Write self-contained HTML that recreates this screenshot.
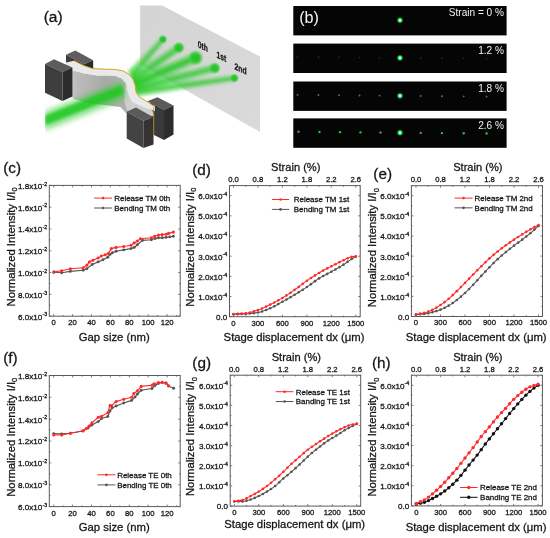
<!DOCTYPE html>
<html><head><meta charset="utf-8"><style>html,body{margin:0;padding:0;background:#fff;}svg{display:block;}text{stroke:#151515;stroke-width:0.28px;}text.w{stroke:none;}</style></head>
<body><svg width="550" height="538" viewBox="0 0 550 538">
<defs>
<linearGradient id="scr" x1="0" y1="0" x2="1" y2="1"><stop offset="0" stop-color="#d4d4d4"/><stop offset="1" stop-color="#dadada"/></linearGradient>
<linearGradient id="beamface" x1="0" y1="0" x2="1" y2="0"><stop offset="0" stop-color="#d2d2d2"/><stop offset="0.12" stop-color="#bcbcbc"/><stop offset="0.45" stop-color="#a9a9a9"/><stop offset="0.75" stop-color="#b4b4b4"/><stop offset="1" stop-color="#cacaca"/></linearGradient>
<radialGradient id="spot"><stop offset="0" stop-color="#25c025"/><stop offset="0.5" stop-color="#2ec42e" stop-opacity="0.95"/><stop offset="0.75" stop-color="#3acb3a" stop-opacity="0.5"/><stop offset="1" stop-color="#3ad43a" stop-opacity="0"/></radialGradient>
<radialGradient id="bspot"><stop offset="0" stop-color="#f4fff6"/><stop offset="0.25" stop-color="#a0ffc0"/><stop offset="0.55" stop-color="#22dd5a"/><stop offset="0.8" stop-color="#10a040" stop-opacity="0.5"/><stop offset="1" stop-color="#10a040" stop-opacity="0"/></radialGradient>
<filter id="blur1" x="-20%" y="-20%" width="140%" height="140%"><feGaussianBlur stdDeviation="0.9"/></filter>
<filter id="blur15" x="-20%" y="-40%" width="140%" height="180%"><feGaussianBlur stdDeviation="1.6"/></filter>
<filter id="blur2" x="-20%" y="-20%" width="140%" height="140%"><feGaussianBlur stdDeviation="1.6"/></filter>
<filter id="blur3" x="-20%" y="-40%" width="140%" height="180%"><feGaussianBlur stdDeviation="2.5"/></filter>
</defs>
<rect width="550" height="538" fill="#fff"/>
<g id="pa">
<text x="43.7" y="21.9" font-size="15.5" fill="#151515" font-family="'Liberation Sans', Arial, sans-serif">(a)</text>
<polygon points="140.2,5.6 162,5.6 260,56.5 260,132 140.2,64.6" fill="url(#scr)"/>
<g filter="url(#blur2)">
<linearGradient id="bm0" gradientUnits="userSpaceOnUse" x1="131" y1="75" x2="162.9" y2="39.3"><stop offset="0" stop-color="#2ccc2c" stop-opacity="0.64"/><stop offset="1" stop-color="#3ccf3c" stop-opacity="0.44"/></linearGradient>
<polygon points="134.58,78.2 127.42,71.8 160.49,37.15 165.31,41.45" fill="url(#bm0)"/>
<linearGradient id="bm1" gradientUnits="userSpaceOnUse" x1="132" y1="79.5" x2="178.9" y2="47.7"><stop offset="0" stop-color="#2ccc2c" stop-opacity="0.68"/><stop offset="1" stop-color="#3ccf3c" stop-opacity="0.47"/></linearGradient>
<polygon points="134.69,83.47 129.31,75.53 176.45,44.08 181.35,51.32" fill="url(#bm1)"/>
<linearGradient id="bm2" gradientUnits="userSpaceOnUse" x1="133" y1="84" x2="195.8" y2="57.8"><stop offset="0" stop-color="#2ccc2c" stop-opacity="0.80"/><stop offset="1" stop-color="#3ccf3c" stop-opacity="0.55"/></linearGradient>
<polygon points="134.85,88.43 131.15,79.57 193.61,52.54 197.99,63.06" fill="url(#bm2)"/>
<linearGradient id="bm3" gradientUnits="userSpaceOnUse" x1="134" y1="88.5" x2="214.8" y2="68.1"><stop offset="0" stop-color="#2ccc2c" stop-opacity="0.68"/><stop offset="1" stop-color="#3ccf3c" stop-opacity="0.47"/></linearGradient>
<polygon points="135.18,93.15 132.82,83.85 213.73,63.86 215.87,72.34" fill="url(#bm3)"/>
<linearGradient id="bm4" gradientUnits="userSpaceOnUse" x1="135" y1="92" x2="234.4" y2="78.1"><stop offset="0" stop-color="#2ccc2c" stop-opacity="0.64"/><stop offset="1" stop-color="#3ccf3c" stop-opacity="0.44"/></linearGradient>
<polygon points="135.66,96.75 134.34,87.25 233.93,74.71 234.87,81.49" fill="url(#bm4)"/>
</g>
<g filter="url(#blur1)">
<line x1="132" y1="75" x2="162.9" y2="39.3" stroke="#22c022" stroke-opacity="0.48" stroke-width="2.55" stroke-linecap="round"/>
<line x1="133" y1="79.5" x2="178.9" y2="47.7" stroke="#22c022" stroke-opacity="0.51" stroke-width="3.45" stroke-linecap="round"/>
<line x1="134" y1="84" x2="195.8" y2="57.8" stroke="#22c022" stroke-opacity="0.60" stroke-width="4.5" stroke-linecap="round"/>
<line x1="135" y1="88.5" x2="214.8" y2="68.1" stroke="#22c022" stroke-opacity="0.51" stroke-width="3.45" stroke-linecap="round"/>
<line x1="136" y1="92" x2="234.4" y2="78.1" stroke="#22c022" stroke-opacity="0.48" stroke-width="2.7" stroke-linecap="round"/>
</g>
<circle cx="162.9" cy="39.3" r="4.59" fill="url(#spot)"/>
<circle cx="178.9" cy="47.7" r="6.21" fill="url(#spot)"/>
<circle cx="195.8" cy="57.8" r="8.1" fill="url(#spot)"/>
<circle cx="214.8" cy="68.1" r="6.21" fill="url(#spot)"/>
<circle cx="234.4" cy="78.1" r="4.86" fill="url(#spot)"/>
<text x="197.8" y="47.2" font-size="9.4" font-weight="bold" fill="#1a1a1a" transform="translate(197.8 47.2) skewY(25) scale(0.72 1) translate(-197.8 -47.2)" font-family="'Liberation Sans', Arial, sans-serif">0th</text>
<text x="216.4" y="57.6" font-size="9.4" font-weight="bold" fill="#1a1a1a" transform="translate(216.4 57.6) skewY(25) scale(0.72 1) translate(-216.4 -57.6)" font-family="'Liberation Sans', Arial, sans-serif">1st</text>
<text x="234.6" y="69.2" font-size="9.4" font-weight="bold" fill="#1a1a1a" transform="translate(234.6 69.2) skewY(25) scale(0.72 1) translate(-234.6 -69.2)" font-family="'Liberation Sans', Arial, sans-serif">2nd</text>
<polygon points="66,54.8 75.3,50.6 93.2,60.2 84.2,64.2" fill="#5e5e5e"/>
<polygon points="66,54.8 84.2,64.2 84.2,72 66,66" fill="#3c3c3c"/>
<polygon points="84.2,64.2 93.2,60.2 93.2,70 84.2,72" fill="#2a2a2a"/>
<polygon points="147.3,101.2 157.4,97.2 173.5,105.6 164,109.8" fill="#5a5a5a"/>
<polygon points="150,102.5 164,109.8 164,140 150,133" fill="#3a3a3a"/>
<polygon points="164,109.8 173.5,105.6 173.5,134.6 164,140" fill="#2c2c2c"/>
<polygon points="66,69.5 72,70 83.2,73.2 97.2,75.6 110,75.5 116,76 121.9,78.4 126,83.5 127.5,90.7 129,96.8 132.6,101.9 138.7,105 145.9,108.1 152,110.1 154,116 126,113 120.3,107 105,105 90,103.5 73,99" fill="url(#beamface)"/>
<polygon points="126,83.5 127.5,90.7 129,96.8 132.6,101.9 138.7,105 145.9,108.1 152,110.1 154,116 128,113 124,100" fill="#cfcfcf"/>
<polygon points="66,62.5 74,60.7 84.2,65.8 92.5,68.6 105,69.2 115.2,69.4 123.4,71 129.5,74.8 133.1,79.4 135.2,85.6 136.2,92.7 139.8,97.3 145.9,100.9 153.1,105.5 155,106.3 155,111 152,110.1 145.9,108.1 138.7,105 132.6,101.9 129,96.8 127.5,90.7 126,83.5 121.9,78.4 115.2,75.8 110,75.5 97.2,75.6 83.2,73.2 72,70 66,69.5" fill="#e9e9e9"/>
<polyline points="74,60.7 84.2,65.8 92.5,68.6 105,69.2 115.2,69.4 123.4,71 129.5,74.8 133.1,79.4 135.2,85.6 136.2,92.7 139.8,97.3 145.9,100.9 153.1,105.5 155,106.3" fill="none" stroke="#d6a21e" stroke-width="1"/>
<g filter="url(#blur3)"><polygon points="45,111 122,81 126,99 45,131" fill="#33cc33" fill-opacity="0.5"/></g>
<g filter="url(#blur15)"><polygon points="45,115.5 122,85 124,94 45,125.5" fill="#22c822" fill-opacity="0.85"/></g>
<rect x="30" y="100" width="15" height="40" fill="#fff"/>
<polygon points="45,64 54,59.3 72.4,67.5 62.5,72" fill="#5c5c5c"/>
<polygon points="45,64 62.5,72 62.5,101 45,92.8" fill="#3e3e3e"/>
<polygon points="62.5,72 72.4,67.5 72.4,96.5 62.5,101" fill="#2c2c2c"/>
<polygon points="126.7,111.7 136,107.5 153.5,117.3 143.4,120.7" fill="#5a5a5a"/>
<polygon points="126.7,111.7 143.4,120.7 143.4,148 126.7,138.5" fill="#434343"/>
<polygon points="143.4,120.7 153.5,117.3 153.5,144.5 143.4,148" fill="#333"/>
<line x1="153.7" y1="107" x2="153.7" y2="136" stroke="#c89a1a" stroke-width="0.8"/>
</g>
<g id="pb">
<rect x="293.3" y="6" width="213.3" height="29.4" fill="#050505"/>
<text x="504" y="16.4" class="w" font-size="10.1" fill="#f2f2f2" text-anchor="end" font-family="'Liberation Sans', Arial, sans-serif">Strain = 0 %</text>
<rect x="293.3" y="43.6" width="213.3" height="29.4" fill="#050505"/>
<text x="504" y="54" class="w" font-size="10.1" fill="#f2f2f2" text-anchor="end" font-family="'Liberation Sans', Arial, sans-serif">1.2 %</text>
<rect x="293.3" y="81.5" width="213.3" height="29.4" fill="#050505"/>
<text x="504" y="91.9" class="w" font-size="10.1" fill="#f2f2f2" text-anchor="end" font-family="'Liberation Sans', Arial, sans-serif">1.8 %</text>
<rect x="293.3" y="118.4" width="213.3" height="29.4" fill="#050505"/>
<text x="504" y="128.8" class="w" font-size="10.1" fill="#f2f2f2" text-anchor="end" font-family="'Liberation Sans', Arial, sans-serif">2.6 %</text>
<text class="w" x="299.2" y="23" font-size="16.2" fill="#f5f5f5" font-family="'Liberation Sans', Arial, sans-serif">(b)</text>
<circle cx="400" cy="20.3" r="3.4" fill="url(#bspot)"/>
<circle cx="400" cy="57.9" r="3.4" fill="url(#bspot)"/>
<circle cx="297.5" cy="56.98" r="0.8" fill="#333"/>
<circle cx="318.5" cy="57.17" r="0.8" fill="#333"/>
<circle cx="339" cy="57.35" r="0.8" fill="#333"/>
<circle cx="359.5" cy="57.54" r="0.8" fill="#333"/>
<circle cx="379.5" cy="57.72" r="0.8" fill="#333"/>
<circle cx="420.7" cy="58.09" r="0.8" fill="#333"/>
<circle cx="441.9" cy="58.28" r="0.8" fill="#333"/>
<circle cx="463.7" cy="58.47" r="0.8" fill="#333"/>
<circle cx="486.6" cy="58.68" r="0.8" fill="#333"/>
<circle cx="400" cy="95.8" r="3.4" fill="url(#bspot)"/>
<circle cx="297.5" cy="94.88" r="0.95" fill="#6a6a6a"/>
<circle cx="318.5" cy="95.07" r="0.95" fill="#6a6a6a"/>
<circle cx="339" cy="95.25" r="0.95" fill="#6a6a6a"/>
<circle cx="359.5" cy="95.44" r="0.95" fill="#6a6a6a"/>
<circle cx="379.5" cy="95.62" r="0.95" fill="#6a6a6a"/>
<circle cx="420.7" cy="95.99" r="0.95" fill="#6a6a6a"/>
<circle cx="441.9" cy="96.18" r="0.95" fill="#6a6a6a"/>
<circle cx="463.7" cy="96.37" r="0.95" fill="#6a6a6a"/>
<circle cx="486.6" cy="96.58" r="0.95" fill="#6a6a6a"/>
<circle cx="400" cy="132.7" r="3.4" fill="url(#bspot)"/>
<circle cx="298.5" cy="131.78" r="1.2" fill="#6a8a6a"/>
<circle cx="319.5" cy="131.97" r="1.2" fill="#25c535"/>
<circle cx="340" cy="132.15" r="1.2" fill="#25c535"/>
<circle cx="360.5" cy="132.34" r="1.2" fill="#25c535"/>
<circle cx="380.5" cy="132.52" r="1.2" fill="#6a8a6a"/>
<circle cx="420.7" cy="132.89" r="1.2" fill="#6a8a6a"/>
<circle cx="441.9" cy="133.08" r="1.2" fill="#25c535"/>
<circle cx="463.7" cy="133.27" r="1.2" fill="#25c535"/>
<circle cx="486.6" cy="133.48" r="1.2" fill="#25c535"/>
</g>
<text x="3.2" y="172.6" font-size="15.3" fill="#151515" font-family="'Liberation Sans', Arial, sans-serif">(c)</text>
<rect x="49.3" y="185.4" width="130.9" height="130.8" fill="none" stroke="#5a5a5a" stroke-width="1"/>
<path d="M53.7,316.2v-2M53.7,185.4v2M72.6,316.2v-2M72.6,185.4v2M91.5,316.2v-2M91.5,185.4v2M110.4,316.2v-2M110.4,185.4v2M129.3,316.2v-2M129.3,185.4v2M148.2,316.2v-2M148.2,185.4v2M167.1,316.2v-2M167.1,185.4v2M63.15,316.2v-1.2M63.15,185.4v1.2M82.05,316.2v-1.2M82.05,185.4v1.2M100.95,316.2v-1.2M100.95,185.4v1.2M119.85,316.2v-1.2M119.85,185.4v1.2M138.75,316.2v-1.2M138.75,185.4v1.2M157.65,316.2v-1.2M157.65,185.4v1.2M176.55,316.2v-1.2M176.55,185.4v1.2" stroke="#5a5a5a" stroke-width="0.8" fill="none"/>
<path d="M49.3,316.2h2M180.2,316.2h-2M49.3,294.4h2M180.2,294.4h-2M49.3,272.6h2M180.2,272.6h-2M49.3,250.8h2M180.2,250.8h-2M49.3,229h2M180.2,229h-2M49.3,207.2h2M180.2,207.2h-2M49.3,185.4h2M180.2,185.4h-2M49.3,305.3h1.2M180.2,305.3h-1.2M49.3,283.5h1.2M180.2,283.5h-1.2M49.3,261.7h1.2M180.2,261.7h-1.2M49.3,239.9h1.2M180.2,239.9h-1.2M49.3,218.1h1.2M180.2,218.1h-1.2M49.3,196.3h1.2M180.2,196.3h-1.2" stroke="#5a5a5a" stroke-width="0.8" fill="none"/>
<text x="53.7" y="325.1" font-size="7.7" fill="#151515" text-anchor="middle" font-family="'Liberation Sans', Arial, sans-serif">0</text>
<text x="72.6" y="325.1" font-size="7.7" fill="#151515" text-anchor="middle" font-family="'Liberation Sans', Arial, sans-serif">20</text>
<text x="91.5" y="325.1" font-size="7.7" fill="#151515" text-anchor="middle" font-family="'Liberation Sans', Arial, sans-serif">40</text>
<text x="110.4" y="325.1" font-size="7.7" fill="#151515" text-anchor="middle" font-family="'Liberation Sans', Arial, sans-serif">60</text>
<text x="129.3" y="325.1" font-size="7.7" fill="#151515" text-anchor="middle" font-family="'Liberation Sans', Arial, sans-serif">80</text>
<text x="148.2" y="325.1" font-size="7.7" fill="#151515" text-anchor="middle" font-family="'Liberation Sans', Arial, sans-serif">100</text>
<text x="167.1" y="325.1" font-size="7.7" fill="#151515" text-anchor="middle" font-family="'Liberation Sans', Arial, sans-serif">120</text>
<text x="47.1" y="319.6" font-size="8.1" fill="#151515" text-anchor="end" font-family="'Liberation Sans', Arial, sans-serif">6.0x10<tspan dy="-3.2" font-size="5.3">-3</tspan></text>
<text x="47.1" y="297.8" font-size="8.1" fill="#151515" text-anchor="end" font-family="'Liberation Sans', Arial, sans-serif">8.0x10<tspan dy="-3.2" font-size="5.3">-3</tspan></text>
<text x="47.1" y="276" font-size="8.1" fill="#151515" text-anchor="end" font-family="'Liberation Sans', Arial, sans-serif">1.0x10<tspan dy="-3.2" font-size="5.3">-2</tspan></text>
<text x="47.1" y="254.2" font-size="8.1" fill="#151515" text-anchor="end" font-family="'Liberation Sans', Arial, sans-serif">1.2x10<tspan dy="-3.2" font-size="5.3">-2</tspan></text>
<text x="47.1" y="232.4" font-size="8.1" fill="#151515" text-anchor="end" font-family="'Liberation Sans', Arial, sans-serif">1.4x10<tspan dy="-3.2" font-size="5.3">-2</tspan></text>
<text x="47.1" y="210.6" font-size="8.1" fill="#151515" text-anchor="end" font-family="'Liberation Sans', Arial, sans-serif">1.6x10<tspan dy="-3.2" font-size="5.3">-2</tspan></text>
<text x="47.1" y="188.8" font-size="8.1" fill="#151515" text-anchor="end" font-family="'Liberation Sans', Arial, sans-serif">1.8x10<tspan dy="-3.2" font-size="5.3">-2</tspan></text>
<text x="114.25" y="340.8" font-size="11.3" fill="#151515" text-anchor="middle" font-family="'Liberation Sans', Arial, sans-serif">Gap size (nm)</text>
<text transform="translate(14.6,306.4) rotate(-90)" font-size="11.3" fill="#151515" font-family="'Liberation Sans', Arial, sans-serif">Normalized Intensity I/I<tspan font-size="7.5" dy="2.5">0</tspan></text>
<polyline points="53.9,272.2 61.7,272.7 70.4,271.4 83.1,270.3 86.8,268.8 92.2,264.5 98.1,261.9 103,259.8 107.8,257.3 110,254.4 112.4,252.8 116.1,251.2 123.7,249.9 131,248.6 134.2,247.4 137.4,244.8 142.5,240.4 151.4,239.7 155.2,238.5 158.4,237.8 162.2,237.8 166,237.4 169.8,236.9 173.4,236.3" fill="none" stroke="#555555" stroke-width="1.15"/>
<circle cx="53.9" cy="272.2" r="1.45" fill="#555555"/>
<circle cx="61.7" cy="272.7" r="1.45" fill="#555555"/>
<circle cx="70.4" cy="271.4" r="1.45" fill="#555555"/>
<circle cx="83.1" cy="270.3" r="1.45" fill="#555555"/>
<circle cx="86.8" cy="268.8" r="1.45" fill="#555555"/>
<circle cx="92.2" cy="264.5" r="1.45" fill="#555555"/>
<circle cx="98.1" cy="261.9" r="1.45" fill="#555555"/>
<circle cx="103" cy="259.8" r="1.45" fill="#555555"/>
<circle cx="107.8" cy="257.3" r="1.45" fill="#555555"/>
<circle cx="110" cy="254.4" r="1.45" fill="#555555"/>
<circle cx="112.4" cy="252.8" r="1.45" fill="#555555"/>
<circle cx="116.1" cy="251.2" r="1.45" fill="#555555"/>
<circle cx="123.7" cy="249.9" r="1.45" fill="#555555"/>
<circle cx="131" cy="248.6" r="1.45" fill="#555555"/>
<circle cx="134.2" cy="247.4" r="1.45" fill="#555555"/>
<circle cx="137.4" cy="244.8" r="1.45" fill="#555555"/>
<circle cx="142.5" cy="240.4" r="1.45" fill="#555555"/>
<circle cx="151.4" cy="239.7" r="1.45" fill="#555555"/>
<circle cx="155.2" cy="238.5" r="1.45" fill="#555555"/>
<circle cx="158.4" cy="237.8" r="1.45" fill="#555555"/>
<circle cx="162.2" cy="237.8" r="1.45" fill="#555555"/>
<circle cx="166" cy="237.4" r="1.45" fill="#555555"/>
<circle cx="169.8" cy="236.9" r="1.45" fill="#555555"/>
<circle cx="173.4" cy="236.3" r="1.45" fill="#555555"/>
<polyline points="53.9,271.9 61.7,270.7 70.4,268.8 83.1,267.7 87,265.1 89.4,261.9 92.9,260.2 98.1,258 101.3,256 105.2,254.7 108.5,253.4 111.3,248.6 116.1,247.4 123.7,246.5 131,245.2 134.2,242.9 137.4,241 140.5,238.8 151.4,237.8 154.5,236.3 158.4,235 162.2,234.6 166,234.3 168.5,233.4 173.4,232.1" fill="none" stroke="#ff2a2a" stroke-width="1.15"/>
<circle cx="53.9" cy="271.9" r="1.55" fill="#ff2a2a"/>
<circle cx="61.7" cy="270.7" r="1.55" fill="#ff2a2a"/>
<circle cx="70.4" cy="268.8" r="1.55" fill="#ff2a2a"/>
<circle cx="83.1" cy="267.7" r="1.55" fill="#ff2a2a"/>
<circle cx="87" cy="265.1" r="1.55" fill="#ff2a2a"/>
<circle cx="89.4" cy="261.9" r="1.55" fill="#ff2a2a"/>
<circle cx="92.9" cy="260.2" r="1.55" fill="#ff2a2a"/>
<circle cx="98.1" cy="258" r="1.55" fill="#ff2a2a"/>
<circle cx="101.3" cy="256" r="1.55" fill="#ff2a2a"/>
<circle cx="105.2" cy="254.7" r="1.55" fill="#ff2a2a"/>
<circle cx="108.5" cy="253.4" r="1.55" fill="#ff2a2a"/>
<circle cx="111.3" cy="248.6" r="1.55" fill="#ff2a2a"/>
<circle cx="116.1" cy="247.4" r="1.55" fill="#ff2a2a"/>
<circle cx="123.7" cy="246.5" r="1.55" fill="#ff2a2a"/>
<circle cx="131" cy="245.2" r="1.55" fill="#ff2a2a"/>
<circle cx="134.2" cy="242.9" r="1.55" fill="#ff2a2a"/>
<circle cx="137.4" cy="241" r="1.55" fill="#ff2a2a"/>
<circle cx="140.5" cy="238.8" r="1.55" fill="#ff2a2a"/>
<circle cx="151.4" cy="237.8" r="1.55" fill="#ff2a2a"/>
<circle cx="154.5" cy="236.3" r="1.55" fill="#ff2a2a"/>
<circle cx="158.4" cy="235" r="1.55" fill="#ff2a2a"/>
<circle cx="162.2" cy="234.6" r="1.55" fill="#ff2a2a"/>
<circle cx="166" cy="234.3" r="1.55" fill="#ff2a2a"/>
<circle cx="168.5" cy="233.4" r="1.55" fill="#ff2a2a"/>
<circle cx="173.4" cy="232.1" r="1.55" fill="#ff2a2a"/>
<line x1="94.1" y1="198.1" x2="112.1" y2="198.1" stroke="#ff2a2a" stroke-width="1"/>
<circle cx="103.1" cy="198.1" r="1.3" fill="#ff2a2a"/>
<text x="114.3" y="200.95" font-size="7.95" fill="#151515" font-family="'Liberation Sans', Arial, sans-serif">Release TM 0th</text>
<line x1="94.1" y1="208" x2="112.1" y2="208" stroke="#555555" stroke-width="1"/>
<circle cx="103.1" cy="208" r="1.3" fill="#555555"/>
<text x="114.3" y="210.85" font-size="7.95" fill="#151515" font-family="'Liberation Sans', Arial, sans-serif">Bending TM 0th</text>
<text x="3.2" y="362.6" font-size="15.3" fill="#151515" font-family="'Liberation Sans', Arial, sans-serif">(f)</text>
<rect x="49.3" y="375.5" width="130.9" height="131.1" fill="none" stroke="#5a5a5a" stroke-width="1"/>
<path d="M53.7,506.6v-2M53.7,375.5v2M72.6,506.6v-2M72.6,375.5v2M91.5,506.6v-2M91.5,375.5v2M110.4,506.6v-2M110.4,375.5v2M129.3,506.6v-2M129.3,375.5v2M148.2,506.6v-2M148.2,375.5v2M167.1,506.6v-2M167.1,375.5v2M63.15,506.6v-1.2M63.15,375.5v1.2M82.05,506.6v-1.2M82.05,375.5v1.2M100.95,506.6v-1.2M100.95,375.5v1.2M119.85,506.6v-1.2M119.85,375.5v1.2M138.75,506.6v-1.2M138.75,375.5v1.2M157.65,506.6v-1.2M157.65,375.5v1.2M176.55,506.6v-1.2M176.55,375.5v1.2" stroke="#5a5a5a" stroke-width="0.8" fill="none"/>
<path d="M49.3,506.6h2M180.2,506.6h-2M49.3,484.75h2M180.2,484.75h-2M49.3,462.9h2M180.2,462.9h-2M49.3,441.05h2M180.2,441.05h-2M49.3,419.2h2M180.2,419.2h-2M49.3,397.35h2M180.2,397.35h-2M49.3,375.5h2M180.2,375.5h-2M49.3,495.68h1.2M180.2,495.68h-1.2M49.3,473.83h1.2M180.2,473.83h-1.2M49.3,451.98h1.2M180.2,451.98h-1.2M49.3,430.12h1.2M180.2,430.12h-1.2M49.3,408.28h1.2M180.2,408.28h-1.2M49.3,386.43h1.2M180.2,386.43h-1.2" stroke="#5a5a5a" stroke-width="0.8" fill="none"/>
<text x="53.7" y="515.5" font-size="7.7" fill="#151515" text-anchor="middle" font-family="'Liberation Sans', Arial, sans-serif">0</text>
<text x="72.6" y="515.5" font-size="7.7" fill="#151515" text-anchor="middle" font-family="'Liberation Sans', Arial, sans-serif">20</text>
<text x="91.5" y="515.5" font-size="7.7" fill="#151515" text-anchor="middle" font-family="'Liberation Sans', Arial, sans-serif">40</text>
<text x="110.4" y="515.5" font-size="7.7" fill="#151515" text-anchor="middle" font-family="'Liberation Sans', Arial, sans-serif">60</text>
<text x="129.3" y="515.5" font-size="7.7" fill="#151515" text-anchor="middle" font-family="'Liberation Sans', Arial, sans-serif">80</text>
<text x="148.2" y="515.5" font-size="7.7" fill="#151515" text-anchor="middle" font-family="'Liberation Sans', Arial, sans-serif">100</text>
<text x="167.1" y="515.5" font-size="7.7" fill="#151515" text-anchor="middle" font-family="'Liberation Sans', Arial, sans-serif">120</text>
<text x="47.1" y="510" font-size="8.1" fill="#151515" text-anchor="end" font-family="'Liberation Sans', Arial, sans-serif">6.0x10<tspan dy="-3.2" font-size="5.3">-3</tspan></text>
<text x="47.1" y="488.15" font-size="8.1" fill="#151515" text-anchor="end" font-family="'Liberation Sans', Arial, sans-serif">8.0x10<tspan dy="-3.2" font-size="5.3">-3</tspan></text>
<text x="47.1" y="466.3" font-size="8.1" fill="#151515" text-anchor="end" font-family="'Liberation Sans', Arial, sans-serif">1.0x10<tspan dy="-3.2" font-size="5.3">-2</tspan></text>
<text x="47.1" y="444.45" font-size="8.1" fill="#151515" text-anchor="end" font-family="'Liberation Sans', Arial, sans-serif">1.2x10<tspan dy="-3.2" font-size="5.3">-2</tspan></text>
<text x="47.1" y="422.6" font-size="8.1" fill="#151515" text-anchor="end" font-family="'Liberation Sans', Arial, sans-serif">1.4x10<tspan dy="-3.2" font-size="5.3">-2</tspan></text>
<text x="47.1" y="400.75" font-size="8.1" fill="#151515" text-anchor="end" font-family="'Liberation Sans', Arial, sans-serif">1.6x10<tspan dy="-3.2" font-size="5.3">-2</tspan></text>
<text x="47.1" y="378.9" font-size="8.1" fill="#151515" text-anchor="end" font-family="'Liberation Sans', Arial, sans-serif">1.8x10<tspan dy="-3.2" font-size="5.3">-2</tspan></text>
<text x="114.25" y="531.2" font-size="11.3" fill="#151515" text-anchor="middle" font-family="'Liberation Sans', Arial, sans-serif">Gap size (nm)</text>
<text transform="translate(14.6,496.8) rotate(-90)" font-size="11.3" fill="#151515" font-family="'Liberation Sans', Arial, sans-serif">Normalized Intensity I/I<tspan font-size="7.5" dy="2.5">0</tspan></text>
<polyline points="53.7,433.6 61.7,433.9 70.3,433.3 83,431 88,428 91.9,425 98.3,421.6 101.5,418.5 107.8,416.5 110,411 112,408 116.1,406 123.7,403 131.6,400.4 135,397 137.4,394 141.2,390.3 152,388.5 155,385.5 158.4,383.5 162.2,382.5 166,383 168.5,386 173.6,388.3" fill="none" stroke="#555555" stroke-width="1.15"/>
<circle cx="53.7" cy="433.6" r="1.45" fill="#555555"/>
<circle cx="61.7" cy="433.9" r="1.45" fill="#555555"/>
<circle cx="70.3" cy="433.3" r="1.45" fill="#555555"/>
<circle cx="83" cy="431" r="1.45" fill="#555555"/>
<circle cx="88" cy="428" r="1.45" fill="#555555"/>
<circle cx="91.9" cy="425" r="1.45" fill="#555555"/>
<circle cx="98.3" cy="421.6" r="1.45" fill="#555555"/>
<circle cx="101.5" cy="418.5" r="1.45" fill="#555555"/>
<circle cx="107.8" cy="416.5" r="1.45" fill="#555555"/>
<circle cx="110" cy="411" r="1.45" fill="#555555"/>
<circle cx="112" cy="408" r="1.45" fill="#555555"/>
<circle cx="116.1" cy="406" r="1.45" fill="#555555"/>
<circle cx="123.7" cy="403" r="1.45" fill="#555555"/>
<circle cx="131.6" cy="400.4" r="1.45" fill="#555555"/>
<circle cx="135" cy="397" r="1.45" fill="#555555"/>
<circle cx="137.4" cy="394" r="1.45" fill="#555555"/>
<circle cx="141.2" cy="390.3" r="1.45" fill="#555555"/>
<circle cx="152" cy="388.5" r="1.45" fill="#555555"/>
<circle cx="155" cy="385.5" r="1.45" fill="#555555"/>
<circle cx="158.4" cy="383.5" r="1.45" fill="#555555"/>
<circle cx="162.2" cy="382.5" r="1.45" fill="#555555"/>
<circle cx="166" cy="383" r="1.45" fill="#555555"/>
<circle cx="168.5" cy="386" r="1.45" fill="#555555"/>
<circle cx="173.6" cy="388.3" r="1.45" fill="#555555"/>
<polyline points="53.7,435 61.7,435 70.3,433.3 83,430.8 86.2,428.6 89,426.1 91.9,422.9 98.3,417.2 101.5,416.3 107.8,412.7 110,405.5 111.6,405.7 116.1,401.6 123.7,399.3 131.6,397.2 133.9,393.4 137.4,390.8 141.2,386.4 152,385.3 153.9,383.8 158.4,382.5 162.2,382.3 166,383.2 168.5,385.7" fill="none" stroke="#ff2a2a" stroke-width="1.15"/>
<circle cx="53.7" cy="435" r="1.55" fill="#ff2a2a"/>
<circle cx="61.7" cy="435" r="1.55" fill="#ff2a2a"/>
<circle cx="70.3" cy="433.3" r="1.55" fill="#ff2a2a"/>
<circle cx="83" cy="430.8" r="1.55" fill="#ff2a2a"/>
<circle cx="86.2" cy="428.6" r="1.55" fill="#ff2a2a"/>
<circle cx="89" cy="426.1" r="1.55" fill="#ff2a2a"/>
<circle cx="91.9" cy="422.9" r="1.55" fill="#ff2a2a"/>
<circle cx="98.3" cy="417.2" r="1.55" fill="#ff2a2a"/>
<circle cx="101.5" cy="416.3" r="1.55" fill="#ff2a2a"/>
<circle cx="107.8" cy="412.7" r="1.55" fill="#ff2a2a"/>
<circle cx="110" cy="405.5" r="1.55" fill="#ff2a2a"/>
<circle cx="111.6" cy="405.7" r="1.55" fill="#ff2a2a"/>
<circle cx="116.1" cy="401.6" r="1.55" fill="#ff2a2a"/>
<circle cx="123.7" cy="399.3" r="1.55" fill="#ff2a2a"/>
<circle cx="131.6" cy="397.2" r="1.55" fill="#ff2a2a"/>
<circle cx="133.9" cy="393.4" r="1.55" fill="#ff2a2a"/>
<circle cx="137.4" cy="390.8" r="1.55" fill="#ff2a2a"/>
<circle cx="141.2" cy="386.4" r="1.55" fill="#ff2a2a"/>
<circle cx="152" cy="385.3" r="1.55" fill="#ff2a2a"/>
<circle cx="153.9" cy="383.8" r="1.55" fill="#ff2a2a"/>
<circle cx="158.4" cy="382.5" r="1.55" fill="#ff2a2a"/>
<circle cx="162.2" cy="382.3" r="1.55" fill="#ff2a2a"/>
<circle cx="166" cy="383.2" r="1.55" fill="#ff2a2a"/>
<circle cx="168.5" cy="385.7" r="1.55" fill="#ff2a2a"/>
<line x1="97.4" y1="474.8" x2="115.4" y2="474.8" stroke="#ff2a2a" stroke-width="1"/>
<circle cx="106.4" cy="474.8" r="1.3" fill="#ff2a2a"/>
<text x="117.2" y="477.65" font-size="7.95" fill="#151515" font-family="'Liberation Sans', Arial, sans-serif">Release TE 0th</text>
<line x1="97.4" y1="484.9" x2="115.4" y2="484.9" stroke="#555555" stroke-width="1"/>
<circle cx="106.4" cy="484.9" r="1.3" fill="#555555"/>
<text x="117.2" y="487.75" font-size="7.95" fill="#151515" font-family="'Liberation Sans', Arial, sans-serif">Bending TE 0th</text>
<text x="192.2" y="174.6" font-size="15.3" fill="#151515" font-family="'Liberation Sans', Arial, sans-serif">(d)</text>
<rect x="229.5" y="185.6" width="130.7" height="131.1" fill="none" stroke="#5a5a5a" stroke-width="1"/>
<path d="M233.5,316.7v-2M233.5,185.6v2M257.95,316.7v-2M257.95,185.6v2M282.4,316.7v-2M282.4,185.6v2M306.85,316.7v-2M306.85,185.6v2M331.3,316.7v-2M331.3,185.6v2M355.75,316.7v-2M355.75,185.6v2M245.72,316.7v-1.2M245.72,185.6v1.2M270.18,316.7v-1.2M270.18,185.6v1.2M294.62,316.7v-1.2M294.62,185.6v1.2M319.07,316.7v-1.2M319.07,185.6v1.2M343.52,316.7v-1.2M343.52,185.6v1.2" stroke="#5a5a5a" stroke-width="0.8" fill="none"/>
<path d="M229.5,316.7h2M360.2,316.7h-2M229.5,296.53h2M360.2,296.53h-2M229.5,276.36h2M360.2,276.36h-2M229.5,256.19h2M360.2,256.19h-2M229.5,236.02h2M360.2,236.02h-2M229.5,215.85h2M360.2,215.85h-2M229.5,195.68h2M360.2,195.68h-2M229.5,306.62h1.2M360.2,306.62h-1.2M229.5,286.45h1.2M360.2,286.45h-1.2M229.5,266.28h1.2M360.2,266.28h-1.2M229.5,246.11h1.2M360.2,246.11h-1.2M229.5,225.94h1.2M360.2,225.94h-1.2M229.5,205.77h1.2M360.2,205.77h-1.2M229.5,185.6h1.2M360.2,185.6h-1.2" stroke="#5a5a5a" stroke-width="0.8" fill="none"/>
<text x="233.5" y="325.6" font-size="7.7" fill="#151515" text-anchor="middle" font-family="'Liberation Sans', Arial, sans-serif">0</text>
<text x="257.95" y="325.6" font-size="7.7" fill="#151515" text-anchor="middle" font-family="'Liberation Sans', Arial, sans-serif">300</text>
<text x="282.4" y="325.6" font-size="7.7" fill="#151515" text-anchor="middle" font-family="'Liberation Sans', Arial, sans-serif">600</text>
<text x="306.85" y="325.6" font-size="7.7" fill="#151515" text-anchor="middle" font-family="'Liberation Sans', Arial, sans-serif">900</text>
<text x="331.3" y="325.6" font-size="7.7" fill="#151515" text-anchor="middle" font-family="'Liberation Sans', Arial, sans-serif">1200</text>
<text x="355.75" y="325.6" font-size="7.7" fill="#151515" text-anchor="middle" font-family="'Liberation Sans', Arial, sans-serif">1500</text>
<text x="233.5" y="182.3" font-size="7.7" fill="#151515" text-anchor="middle" font-family="'Liberation Sans', Arial, sans-serif">0.0</text>
<text x="257.95" y="182.3" font-size="7.7" fill="#151515" text-anchor="middle" font-family="'Liberation Sans', Arial, sans-serif">0.8</text>
<text x="282.4" y="182.3" font-size="7.7" fill="#151515" text-anchor="middle" font-family="'Liberation Sans', Arial, sans-serif">1.2</text>
<text x="306.85" y="182.3" font-size="7.7" fill="#151515" text-anchor="middle" font-family="'Liberation Sans', Arial, sans-serif">1.8</text>
<text x="331.3" y="182.3" font-size="7.7" fill="#151515" text-anchor="middle" font-family="'Liberation Sans', Arial, sans-serif">2.2</text>
<text x="355.75" y="182.3" font-size="7.7" fill="#151515" text-anchor="middle" font-family="'Liberation Sans', Arial, sans-serif">2.6</text>
<text x="295.75" y="171" font-size="11.1" fill="#151515" text-anchor="middle" font-family="'Liberation Sans', Arial, sans-serif">Strain (%)</text>
<text x="227.3" y="320" font-size="8.1" fill="#151515" text-anchor="end" font-family="'Liberation Sans', Arial, sans-serif">0.0</text>
<text x="227.3" y="299.93" font-size="8.1" fill="#151515" text-anchor="end" font-family="'Liberation Sans', Arial, sans-serif">1.0x10<tspan dy="-3.2" font-size="5.3">-4</tspan></text>
<text x="227.3" y="279.76" font-size="8.1" fill="#151515" text-anchor="end" font-family="'Liberation Sans', Arial, sans-serif">2.0x10<tspan dy="-3.2" font-size="5.3">-4</tspan></text>
<text x="227.3" y="259.59" font-size="8.1" fill="#151515" text-anchor="end" font-family="'Liberation Sans', Arial, sans-serif">3.0x10<tspan dy="-3.2" font-size="5.3">-4</tspan></text>
<text x="227.3" y="239.42" font-size="8.1" fill="#151515" text-anchor="end" font-family="'Liberation Sans', Arial, sans-serif">4.0x10<tspan dy="-3.2" font-size="5.3">-4</tspan></text>
<text x="227.3" y="219.25" font-size="8.1" fill="#151515" text-anchor="end" font-family="'Liberation Sans', Arial, sans-serif">5.0x10<tspan dy="-3.2" font-size="5.3">-4</tspan></text>
<text x="227.3" y="199.08" font-size="8.1" fill="#151515" text-anchor="end" font-family="'Liberation Sans', Arial, sans-serif">6.0x10<tspan dy="-3.2" font-size="5.3">-4</tspan></text>
<text x="294.05" y="341.4" font-size="11.3" fill="#151515" text-anchor="middle" font-family="'Liberation Sans', Arial, sans-serif">Stage displacement dx (μm)</text>
<text transform="translate(193.6,306.7) rotate(-90)" font-size="11.3" fill="#151515" font-family="'Liberation Sans', Arial, sans-serif">Normalized Intensity I/I<tspan font-size="7.5" dy="2.5">0</tspan></text>
<polyline points="233.5,314.28 234.31,314.25 235.13,314.23 235.94,314.21 236.76,314.18 237.57,314.16 238.39,314.14 239.21,314.12 240.02,314.09 240.84,314.07 241.65,314.04 242.47,314.02 243.28,313.99 244.09,313.95 244.91,313.92 245.72,313.88 246.54,313.83 247.35,313.78 248.17,313.72 248.99,313.65 249.8,313.57 250.62,313.49 251.43,313.4 252.25,313.31 253.06,313.21 253.88,313.1 254.69,312.98 255.5,312.86 256.32,312.74 257.13,312.6 257.95,312.46 258.76,312.31 259.58,312.13 260.39,311.92 261.21,311.68 262.02,311.43 262.84,311.16 263.65,310.87 264.47,310.57 265.29,310.25 266.1,309.93 266.92,309.59 267.73,309.26 268.55,308.91 269.36,308.57 270.18,308.23 270.99,307.88 271.81,307.51 272.62,307.12 273.44,306.71 274.25,306.3 275.06,305.87 275.88,305.43 276.69,304.98 277.51,304.53 278.32,304.07 279.14,303.61 279.95,303.15 280.77,302.68 281.58,302.23 282.4,301.77 283.22,301.32 284.03,300.87 284.85,300.41 285.66,299.95 286.48,299.49 287.29,299.02 288.11,298.56 288.92,298.09 289.74,297.61 290.55,297.14 291.37,296.66 292.18,296.17 293,295.69 293.81,295.2 294.62,294.72 295.44,294.22 296.25,293.73 297.07,293.24 297.88,292.74 298.7,292.24 299.51,291.74 300.33,291.24 301.14,290.73 301.96,290.22 302.77,289.7 303.59,289.18 304.4,288.65 305.22,288.13 306.03,287.59 306.85,287.05 307.67,286.5 308.48,285.93 309.3,285.35 310.11,284.76 310.93,284.16 311.74,283.55 312.56,282.94 313.37,282.34 314.19,281.73 315,281.14 315.81,280.56 316.63,279.98 317.44,279.43 318.26,278.89 319.07,278.38 319.89,277.88 320.7,277.41 321.52,276.94 322.34,276.49 323.15,276.04 323.97,275.61 324.78,275.18 325.6,274.75 326.41,274.33 327.23,273.91 328.04,273.48 328.86,273.05 329.67,272.62 330.49,272.17 331.3,271.72 332.12,271.27 332.93,270.81 333.75,270.36 334.56,269.91 335.38,269.45 336.19,268.99 337,268.54 337.82,268.07 338.63,267.61 339.45,267.13 340.26,266.66 341.08,266.17 341.89,265.68 342.71,265.17 343.52,264.66 344.34,264.13 345.15,263.58 345.97,263.01 346.79,262.43 347.6,261.84 348.42,261.25 349.23,260.67 350.05,260.1 350.86,259.55 351.68,259.02 352.49,258.51 353.31,258.02 354.12,257.55 354.94,257.07 355.75,256.6" fill="none" stroke="#555555" stroke-width="1.05"/>
<circle cx="233.5" cy="314.28" r="1.3" fill="#555555"/>
<circle cx="237.57" cy="314.16" r="1.3" fill="#555555"/>
<circle cx="241.65" cy="314.04" r="1.3" fill="#555555"/>
<circle cx="245.72" cy="313.88" r="1.3" fill="#555555"/>
<circle cx="249.8" cy="313.57" r="1.3" fill="#555555"/>
<circle cx="253.88" cy="313.1" r="1.3" fill="#555555"/>
<circle cx="257.95" cy="312.46" r="1.3" fill="#555555"/>
<circle cx="262.02" cy="311.43" r="1.3" fill="#555555"/>
<circle cx="266.1" cy="309.93" r="1.3" fill="#555555"/>
<circle cx="270.18" cy="308.23" r="1.3" fill="#555555"/>
<circle cx="274.25" cy="306.3" r="1.3" fill="#555555"/>
<circle cx="278.32" cy="304.07" r="1.3" fill="#555555"/>
<circle cx="282.4" cy="301.77" r="1.3" fill="#555555"/>
<circle cx="286.48" cy="299.49" r="1.3" fill="#555555"/>
<circle cx="290.55" cy="297.14" r="1.3" fill="#555555"/>
<circle cx="294.62" cy="294.72" r="1.3" fill="#555555"/>
<circle cx="298.7" cy="292.24" r="1.3" fill="#555555"/>
<circle cx="302.77" cy="289.7" r="1.3" fill="#555555"/>
<circle cx="306.85" cy="287.05" r="1.3" fill="#555555"/>
<circle cx="310.93" cy="284.16" r="1.3" fill="#555555"/>
<circle cx="315" cy="281.14" r="1.3" fill="#555555"/>
<circle cx="319.07" cy="278.38" r="1.3" fill="#555555"/>
<circle cx="323.15" cy="276.04" r="1.3" fill="#555555"/>
<circle cx="327.23" cy="273.91" r="1.3" fill="#555555"/>
<circle cx="331.3" cy="271.72" r="1.3" fill="#555555"/>
<circle cx="335.38" cy="269.45" r="1.3" fill="#555555"/>
<circle cx="339.45" cy="267.13" r="1.3" fill="#555555"/>
<circle cx="343.52" cy="264.66" r="1.3" fill="#555555"/>
<circle cx="347.6" cy="261.84" r="1.3" fill="#555555"/>
<circle cx="351.68" cy="259.02" r="1.3" fill="#555555"/>
<circle cx="355.75" cy="256.6" r="1.3" fill="#555555"/>
<polyline points="233.5,314.08 234.31,314.03 235.13,313.98 235.94,313.93 236.76,313.89 237.57,313.84 238.39,313.8 239.21,313.76 240.02,313.71 240.84,313.66 241.65,313.61 242.47,313.56 243.28,313.49 244.09,313.43 244.91,313.35 245.72,313.27 246.54,313.17 247.35,313.05 248.17,312.9 248.99,312.73 249.8,312.54 250.62,312.34 251.43,312.12 252.25,311.88 253.06,311.64 253.88,311.39 254.69,311.12 255.5,310.86 256.32,310.59 257.13,310.32 257.95,310.04 258.76,309.76 259.58,309.47 260.39,309.15 261.21,308.82 262.02,308.48 262.84,308.12 263.65,307.75 264.47,307.37 265.29,306.99 266.1,306.6 266.92,306.2 267.73,305.8 268.55,305.4 269.36,305 270.18,304.6 270.99,304.2 271.81,303.79 272.62,303.37 273.44,302.95 274.25,302.53 275.06,302.09 275.88,301.65 276.69,301.21 277.51,300.76 278.32,300.31 279.14,299.84 279.95,299.38 280.77,298.9 281.58,298.43 282.4,297.94 283.22,297.45 284.03,296.95 284.85,296.44 285.66,295.93 286.48,295.4 287.29,294.87 288.11,294.34 288.92,293.79 289.74,293.24 290.55,292.69 291.37,292.13 292.18,291.57 293,291.01 293.81,290.44 294.62,289.87 295.44,289.3 296.25,288.71 297.07,288.11 297.88,287.5 298.7,286.88 299.51,286.26 300.33,285.63 301.14,285.01 301.96,284.39 302.77,283.77 303.59,283.15 304.4,282.55 305.22,281.95 306.03,281.37 306.85,280.8 307.67,280.24 308.48,279.68 309.3,279.13 310.11,278.59 310.93,278.04 311.74,277.51 312.56,276.98 313.37,276.45 314.19,275.93 315,275.42 315.81,274.91 316.63,274.4 317.44,273.91 318.26,273.42 319.07,272.93 319.89,272.46 320.7,271.98 321.52,271.52 322.34,271.06 323.15,270.61 323.97,270.16 324.78,269.72 325.6,269.28 326.41,268.84 327.23,268.41 328.04,267.98 328.86,267.55 329.67,267.12 330.49,266.7 331.3,266.28 332.12,265.85 332.93,265.43 333.75,265.01 334.56,264.59 335.38,264.18 336.19,263.77 337,263.35 337.82,262.95 338.63,262.54 339.45,262.14 340.26,261.75 341.08,261.36 341.89,260.98 342.71,260.6 343.52,260.23 344.34,259.85 345.15,259.45 345.97,259.05 346.79,258.65 347.6,258.26 348.42,257.89 349.23,257.56 350.05,257.25 350.86,257 351.68,256.8 352.49,256.65 353.31,256.52 354.12,256.41 354.94,256.31 355.75,256.19" fill="none" stroke="#ff2a2a" stroke-width="1.05"/>
<circle cx="233.5" cy="314.08" r="1.3" fill="#ff2a2a"/>
<circle cx="237.57" cy="313.84" r="1.3" fill="#ff2a2a"/>
<circle cx="241.65" cy="313.61" r="1.3" fill="#ff2a2a"/>
<circle cx="245.72" cy="313.27" r="1.3" fill="#ff2a2a"/>
<circle cx="249.8" cy="312.54" r="1.3" fill="#ff2a2a"/>
<circle cx="253.88" cy="311.39" r="1.3" fill="#ff2a2a"/>
<circle cx="257.95" cy="310.04" r="1.3" fill="#ff2a2a"/>
<circle cx="262.02" cy="308.48" r="1.3" fill="#ff2a2a"/>
<circle cx="266.1" cy="306.6" r="1.3" fill="#ff2a2a"/>
<circle cx="270.18" cy="304.6" r="1.3" fill="#ff2a2a"/>
<circle cx="274.25" cy="302.53" r="1.3" fill="#ff2a2a"/>
<circle cx="278.32" cy="300.31" r="1.3" fill="#ff2a2a"/>
<circle cx="282.4" cy="297.94" r="1.3" fill="#ff2a2a"/>
<circle cx="286.48" cy="295.4" r="1.3" fill="#ff2a2a"/>
<circle cx="290.55" cy="292.69" r="1.3" fill="#ff2a2a"/>
<circle cx="294.62" cy="289.87" r="1.3" fill="#ff2a2a"/>
<circle cx="298.7" cy="286.88" r="1.3" fill="#ff2a2a"/>
<circle cx="302.77" cy="283.77" r="1.3" fill="#ff2a2a"/>
<circle cx="306.85" cy="280.8" r="1.3" fill="#ff2a2a"/>
<circle cx="310.93" cy="278.04" r="1.3" fill="#ff2a2a"/>
<circle cx="315" cy="275.42" r="1.3" fill="#ff2a2a"/>
<circle cx="319.07" cy="272.93" r="1.3" fill="#ff2a2a"/>
<circle cx="323.15" cy="270.61" r="1.3" fill="#ff2a2a"/>
<circle cx="327.23" cy="268.41" r="1.3" fill="#ff2a2a"/>
<circle cx="331.3" cy="266.28" r="1.3" fill="#ff2a2a"/>
<circle cx="335.38" cy="264.18" r="1.3" fill="#ff2a2a"/>
<circle cx="339.45" cy="262.14" r="1.3" fill="#ff2a2a"/>
<circle cx="343.52" cy="260.23" r="1.3" fill="#ff2a2a"/>
<circle cx="347.6" cy="258.26" r="1.3" fill="#ff2a2a"/>
<circle cx="351.68" cy="256.8" r="1.3" fill="#ff2a2a"/>
<circle cx="355.75" cy="256.19" r="1.3" fill="#ff2a2a"/>
<line x1="271.9" y1="199.5" x2="289.2" y2="199.5" stroke="#ff2a2a" stroke-width="1"/>
<circle cx="280.55" cy="199.5" r="1.3" fill="#ff2a2a"/>
<text x="293.8" y="202.35" font-size="7.95" fill="#151515" font-family="'Liberation Sans', Arial, sans-serif">Release TM 1st</text>
<line x1="271.9" y1="209.4" x2="289.2" y2="209.4" stroke="#555555" stroke-width="1"/>
<circle cx="280.55" cy="209.4" r="1.3" fill="#555555"/>
<text x="293.8" y="212.25" font-size="7.95" fill="#151515" font-family="'Liberation Sans', Arial, sans-serif">Bending TM 1st</text>
<text x="373.3" y="178.8" font-size="15.3" fill="#151515" font-family="'Liberation Sans', Arial, sans-serif">(e)</text>
<rect x="411.4" y="185.7" width="131.1" height="130.8" fill="none" stroke="#5a5a5a" stroke-width="1"/>
<path d="M416,316.5v-2M416,185.7v2M440.5,316.5v-2M440.5,185.7v2M465,316.5v-2M465,185.7v2M489.5,316.5v-2M489.5,185.7v2M514,316.5v-2M514,185.7v2M538.5,316.5v-2M538.5,185.7v2M428.25,316.5v-1.2M428.25,185.7v1.2M452.75,316.5v-1.2M452.75,185.7v1.2M477.25,316.5v-1.2M477.25,185.7v1.2M501.75,316.5v-1.2M501.75,185.7v1.2M526.25,316.5v-1.2M526.25,185.7v1.2" stroke="#5a5a5a" stroke-width="0.8" fill="none"/>
<path d="M411.4,316.5h2M542.5,316.5h-2M411.4,296.38h2M542.5,296.38h-2M411.4,276.25h2M542.5,276.25h-2M411.4,256.13h2M542.5,256.13h-2M411.4,236.01h2M542.5,236.01h-2M411.4,215.88h2M542.5,215.88h-2M411.4,195.76h2M542.5,195.76h-2M411.4,306.44h1.2M542.5,306.44h-1.2M411.4,286.32h1.2M542.5,286.32h-1.2M411.4,266.19h1.2M542.5,266.19h-1.2M411.4,246.07h1.2M542.5,246.07h-1.2M411.4,225.95h1.2M542.5,225.95h-1.2M411.4,205.82h1.2M542.5,205.82h-1.2M411.4,185.7h1.2M542.5,185.7h-1.2" stroke="#5a5a5a" stroke-width="0.8" fill="none"/>
<text x="416" y="325.4" font-size="7.7" fill="#151515" text-anchor="middle" font-family="'Liberation Sans', Arial, sans-serif">0</text>
<text x="440.5" y="325.4" font-size="7.7" fill="#151515" text-anchor="middle" font-family="'Liberation Sans', Arial, sans-serif">300</text>
<text x="465" y="325.4" font-size="7.7" fill="#151515" text-anchor="middle" font-family="'Liberation Sans', Arial, sans-serif">600</text>
<text x="489.5" y="325.4" font-size="7.7" fill="#151515" text-anchor="middle" font-family="'Liberation Sans', Arial, sans-serif">900</text>
<text x="514" y="325.4" font-size="7.7" fill="#151515" text-anchor="middle" font-family="'Liberation Sans', Arial, sans-serif">1200</text>
<text x="538.5" y="325.4" font-size="7.7" fill="#151515" text-anchor="middle" font-family="'Liberation Sans', Arial, sans-serif">1500</text>
<text x="416" y="182.4" font-size="7.7" fill="#151515" text-anchor="middle" font-family="'Liberation Sans', Arial, sans-serif">0.0</text>
<text x="440.5" y="182.4" font-size="7.7" fill="#151515" text-anchor="middle" font-family="'Liberation Sans', Arial, sans-serif">0.8</text>
<text x="465" y="182.4" font-size="7.7" fill="#151515" text-anchor="middle" font-family="'Liberation Sans', Arial, sans-serif">1.2</text>
<text x="489.5" y="182.4" font-size="7.7" fill="#151515" text-anchor="middle" font-family="'Liberation Sans', Arial, sans-serif">1.8</text>
<text x="514" y="182.4" font-size="7.7" fill="#151515" text-anchor="middle" font-family="'Liberation Sans', Arial, sans-serif">2.2</text>
<text x="538.5" y="182.4" font-size="7.7" fill="#151515" text-anchor="middle" font-family="'Liberation Sans', Arial, sans-serif">2.6</text>
<text x="477.85" y="171.1" font-size="11.1" fill="#151515" text-anchor="middle" font-family="'Liberation Sans', Arial, sans-serif">Strain (%)</text>
<text x="409.2" y="319.8" font-size="8.1" fill="#151515" text-anchor="end" font-family="'Liberation Sans', Arial, sans-serif">0.0</text>
<text x="409.2" y="299.78" font-size="8.1" fill="#151515" text-anchor="end" font-family="'Liberation Sans', Arial, sans-serif">1.0x10<tspan dy="-3.2" font-size="5.3">-4</tspan></text>
<text x="409.2" y="279.65" font-size="8.1" fill="#151515" text-anchor="end" font-family="'Liberation Sans', Arial, sans-serif">2.0x10<tspan dy="-3.2" font-size="5.3">-4</tspan></text>
<text x="409.2" y="259.53" font-size="8.1" fill="#151515" text-anchor="end" font-family="'Liberation Sans', Arial, sans-serif">3.0x10<tspan dy="-3.2" font-size="5.3">-4</tspan></text>
<text x="409.2" y="239.41" font-size="8.1" fill="#151515" text-anchor="end" font-family="'Liberation Sans', Arial, sans-serif">4.0x10<tspan dy="-3.2" font-size="5.3">-4</tspan></text>
<text x="409.2" y="219.28" font-size="8.1" fill="#151515" text-anchor="end" font-family="'Liberation Sans', Arial, sans-serif">5.0x10<tspan dy="-3.2" font-size="5.3">-4</tspan></text>
<text x="409.2" y="199.16" font-size="8.1" fill="#151515" text-anchor="end" font-family="'Liberation Sans', Arial, sans-serif">6.0x10<tspan dy="-3.2" font-size="5.3">-4</tspan></text>
<text x="476.15" y="341.2" font-size="11.3" fill="#151515" text-anchor="middle" font-family="'Liberation Sans', Arial, sans-serif">Stage displacement dx (μm)</text>
<text transform="translate(376.4,307.2) rotate(-90)" font-size="11.3" fill="#151515" font-family="'Liberation Sans', Arial, sans-serif">Normalized Intensity I/I<tspan font-size="7.5" dy="2.5">0</tspan></text>
<polyline points="416,314.69 416.82,314.61 417.63,314.54 418.45,314.46 419.27,314.39 420.08,314.32 420.9,314.24 421.72,314.16 422.53,314.08 423.35,313.99 424.17,313.88 424.98,313.77 425.8,313.64 426.62,313.5 427.43,313.35 428.25,313.19 429.07,313.02 429.88,312.85 430.7,312.66 431.52,312.47 432.33,312.27 433.15,312.07 433.97,311.85 434.78,311.62 435.6,311.37 436.42,311.11 437.23,310.84 438.05,310.56 438.87,310.27 439.68,309.97 440.5,309.66 441.32,309.33 442.13,308.98 442.95,308.62 443.77,308.24 444.58,307.84 445.4,307.42 446.22,306.99 447.03,306.55 447.85,306.1 448.67,305.63 449.48,305.15 450.3,304.65 451.12,304.12 451.93,303.58 452.75,303.01 453.57,302.43 454.38,301.84 455.2,301.24 456.02,300.62 456.83,300 457.65,299.36 458.47,298.71 459.28,298.04 460.1,297.35 460.92,296.64 461.73,295.93 462.55,295.2 463.37,294.46 464.18,293.71 465,292.96 465.82,292.19 466.63,291.4 467.45,290.59 468.27,289.78 469.08,288.95 469.9,288.11 470.72,287.26 471.53,286.41 472.35,285.56 473.17,284.71 473.98,283.84 474.8,282.97 475.62,282.09 476.43,281.2 477.25,280.3 478.07,279.41 478.88,278.51 479.7,277.62 480.52,276.73 481.33,275.85 482.15,274.98 482.97,274.1 483.78,273.22 484.6,272.35 485.42,271.47 486.23,270.61 487.05,269.74 487.87,268.89 488.68,268.04 489.5,267.2 490.32,266.37 491.13,265.53 491.95,264.71 492.77,263.89 493.58,263.07 494.4,262.26 495.22,261.47 496.03,260.68 496.85,259.91 497.67,259.15 498.48,258.4 499.3,257.67 500.12,256.95 500.93,256.23 501.75,255.53 502.57,254.83 503.38,254.14 504.2,253.46 505.02,252.78 505.83,252.11 506.65,251.44 507.47,250.77 508.28,250.12 509.1,249.47 509.92,248.82 510.73,248.18 511.55,247.55 512.37,246.92 513.18,246.29 514,245.67 514.82,245.05 515.63,244.44 516.45,243.84 517.27,243.24 518.08,242.65 518.9,242.05 519.72,241.46 520.53,240.86 521.35,240.25 522.17,239.63 522.98,239.01 523.8,238.38 524.62,237.75 525.43,237.12 526.25,236.48 527.07,235.84 527.88,235.19 528.7,234.53 529.52,233.87 530.33,233.19 531.15,232.5 531.97,231.8 532.78,231.08 533.6,230.35 534.42,229.62 535.23,228.88 536.05,228.15 536.87,227.41 537.68,226.67 538.5,225.95" fill="none" stroke="#555555" stroke-width="1.05"/>
<circle cx="416" cy="314.69" r="1.3" fill="#555555"/>
<circle cx="420.08" cy="314.32" r="1.3" fill="#555555"/>
<circle cx="424.17" cy="313.88" r="1.3" fill="#555555"/>
<circle cx="428.25" cy="313.19" r="1.3" fill="#555555"/>
<circle cx="432.33" cy="312.27" r="1.3" fill="#555555"/>
<circle cx="436.42" cy="311.11" r="1.3" fill="#555555"/>
<circle cx="440.5" cy="309.66" r="1.3" fill="#555555"/>
<circle cx="444.58" cy="307.84" r="1.3" fill="#555555"/>
<circle cx="448.67" cy="305.63" r="1.3" fill="#555555"/>
<circle cx="452.75" cy="303.01" r="1.3" fill="#555555"/>
<circle cx="456.83" cy="300" r="1.3" fill="#555555"/>
<circle cx="460.92" cy="296.64" r="1.3" fill="#555555"/>
<circle cx="465" cy="292.96" r="1.3" fill="#555555"/>
<circle cx="469.08" cy="288.95" r="1.3" fill="#555555"/>
<circle cx="473.17" cy="284.71" r="1.3" fill="#555555"/>
<circle cx="477.25" cy="280.3" r="1.3" fill="#555555"/>
<circle cx="481.33" cy="275.85" r="1.3" fill="#555555"/>
<circle cx="485.42" cy="271.47" r="1.3" fill="#555555"/>
<circle cx="489.5" cy="267.2" r="1.3" fill="#555555"/>
<circle cx="493.58" cy="263.07" r="1.3" fill="#555555"/>
<circle cx="497.67" cy="259.15" r="1.3" fill="#555555"/>
<circle cx="501.75" cy="255.53" r="1.3" fill="#555555"/>
<circle cx="505.83" cy="252.11" r="1.3" fill="#555555"/>
<circle cx="509.92" cy="248.82" r="1.3" fill="#555555"/>
<circle cx="514" cy="245.67" r="1.3" fill="#555555"/>
<circle cx="518.08" cy="242.65" r="1.3" fill="#555555"/>
<circle cx="522.17" cy="239.63" r="1.3" fill="#555555"/>
<circle cx="526.25" cy="236.48" r="1.3" fill="#555555"/>
<circle cx="530.33" cy="233.19" r="1.3" fill="#555555"/>
<circle cx="534.42" cy="229.62" r="1.3" fill="#555555"/>
<circle cx="538.5" cy="225.95" r="1.3" fill="#555555"/>
<polyline points="416,314.29 416.82,314.15 417.63,314.02 418.45,313.9 419.27,313.77 420.08,313.65 420.9,313.52 421.72,313.38 422.53,313.23 423.35,313.06 424.17,312.88 424.98,312.67 425.8,312.44 426.62,312.18 427.43,311.9 428.25,311.59 429.07,311.27 429.88,310.94 430.7,310.59 431.52,310.23 432.33,309.86 433.15,309.47 433.97,309.06 434.78,308.61 435.6,308.15 436.42,307.66 437.23,307.16 438.05,306.64 438.87,306.11 439.68,305.57 440.5,305.03 441.32,304.48 442.13,303.9 442.95,303.31 443.77,302.71 444.58,302.09 445.4,301.45 446.22,300.81 447.03,300.15 447.85,299.47 448.67,298.79 449.48,298.09 450.3,297.37 451.12,296.63 451.93,295.87 452.75,295.1 453.57,294.32 454.38,293.53 455.2,292.74 456.02,291.94 456.83,291.14 457.65,290.35 458.47,289.54 459.28,288.72 460.1,287.9 460.92,287.07 461.73,286.24 462.55,285.4 463.37,284.57 464.18,283.73 465,282.89 465.82,282.06 466.63,281.21 467.45,280.37 468.27,279.52 469.08,278.67 469.9,277.82 470.72,276.97 471.53,276.12 472.35,275.28 473.17,274.44 473.98,273.61 474.8,272.77 475.62,271.94 476.43,271.11 477.25,270.28 478.07,269.45 478.88,268.63 479.7,267.81 480.52,267 481.33,266.19 482.15,265.39 482.97,264.58 483.78,263.78 484.6,262.97 485.42,262.18 486.23,261.39 487.05,260.61 487.87,259.84 488.68,259.08 489.5,258.34 490.32,257.62 491.13,256.91 491.95,256.2 492.77,255.51 493.58,254.83 494.4,254.15 495.22,253.48 496.03,252.82 496.85,252.16 497.67,251.5 498.48,250.85 499.3,250.21 500.12,249.57 500.93,248.94 501.75,248.31 502.57,247.69 503.38,247.07 504.2,246.46 505.02,245.86 505.83,245.26 506.65,244.68 507.47,244.09 508.28,243.52 509.1,242.95 509.92,242.39 510.73,241.83 511.55,241.27 512.37,240.72 513.18,240.17 514,239.63 514.82,239.09 515.63,238.56 516.45,238.03 517.27,237.5 518.08,236.98 518.9,236.46 519.72,235.94 520.53,235.42 521.35,234.91 522.17,234.4 522.98,233.88 523.8,233.37 524.62,232.85 525.43,232.34 526.25,231.83 527.07,231.32 527.88,230.82 528.7,230.33 529.52,229.84 530.33,229.37 531.15,228.9 531.97,228.45 532.78,228 533.6,227.56 534.42,227.12 535.23,226.68 536.05,226.25 536.87,225.82 537.68,225.38 538.5,224.94" fill="none" stroke="#ff2a2a" stroke-width="1.05"/>
<circle cx="416" cy="314.29" r="1.3" fill="#ff2a2a"/>
<circle cx="420.08" cy="313.65" r="1.3" fill="#ff2a2a"/>
<circle cx="424.17" cy="312.88" r="1.3" fill="#ff2a2a"/>
<circle cx="428.25" cy="311.59" r="1.3" fill="#ff2a2a"/>
<circle cx="432.33" cy="309.86" r="1.3" fill="#ff2a2a"/>
<circle cx="436.42" cy="307.66" r="1.3" fill="#ff2a2a"/>
<circle cx="440.5" cy="305.03" r="1.3" fill="#ff2a2a"/>
<circle cx="444.58" cy="302.09" r="1.3" fill="#ff2a2a"/>
<circle cx="448.67" cy="298.79" r="1.3" fill="#ff2a2a"/>
<circle cx="452.75" cy="295.1" r="1.3" fill="#ff2a2a"/>
<circle cx="456.83" cy="291.14" r="1.3" fill="#ff2a2a"/>
<circle cx="460.92" cy="287.07" r="1.3" fill="#ff2a2a"/>
<circle cx="465" cy="282.89" r="1.3" fill="#ff2a2a"/>
<circle cx="469.08" cy="278.67" r="1.3" fill="#ff2a2a"/>
<circle cx="473.17" cy="274.44" r="1.3" fill="#ff2a2a"/>
<circle cx="477.25" cy="270.28" r="1.3" fill="#ff2a2a"/>
<circle cx="481.33" cy="266.19" r="1.3" fill="#ff2a2a"/>
<circle cx="485.42" cy="262.18" r="1.3" fill="#ff2a2a"/>
<circle cx="489.5" cy="258.34" r="1.3" fill="#ff2a2a"/>
<circle cx="493.58" cy="254.83" r="1.3" fill="#ff2a2a"/>
<circle cx="497.67" cy="251.5" r="1.3" fill="#ff2a2a"/>
<circle cx="501.75" cy="248.31" r="1.3" fill="#ff2a2a"/>
<circle cx="505.83" cy="245.26" r="1.3" fill="#ff2a2a"/>
<circle cx="509.92" cy="242.39" r="1.3" fill="#ff2a2a"/>
<circle cx="514" cy="239.63" r="1.3" fill="#ff2a2a"/>
<circle cx="518.08" cy="236.98" r="1.3" fill="#ff2a2a"/>
<circle cx="522.17" cy="234.4" r="1.3" fill="#ff2a2a"/>
<circle cx="526.25" cy="231.83" r="1.3" fill="#ff2a2a"/>
<circle cx="530.33" cy="229.37" r="1.3" fill="#ff2a2a"/>
<circle cx="534.42" cy="227.12" r="1.3" fill="#ff2a2a"/>
<circle cx="538.5" cy="224.94" r="1.3" fill="#ff2a2a"/>
<line x1="454.5" y1="198.1" x2="472.6" y2="198.1" stroke="#ff2a2a" stroke-width="1"/>
<circle cx="463.55" cy="198.1" r="1.3" fill="#ff2a2a"/>
<text x="474.6" y="200.95" font-size="7.95" fill="#151515" font-family="'Liberation Sans', Arial, sans-serif">Release TM 2nd</text>
<line x1="454.5" y1="207.85" x2="472.6" y2="207.85" stroke="#555555" stroke-width="1"/>
<circle cx="463.55" cy="207.85" r="1.3" fill="#555555"/>
<text x="474.6" y="210.7" font-size="7.95" fill="#151515" font-family="'Liberation Sans', Arial, sans-serif">Bending TM 2nd</text>
<text x="192.3" y="368.2" font-size="15.3" fill="#151515" font-family="'Liberation Sans', Arial, sans-serif">(g)</text>
<rect x="230.2" y="375.2" width="130.5" height="130.9" fill="none" stroke="#5a5a5a" stroke-width="1"/>
<path d="M234.3,506.1v-2M234.3,375.2v2M258.8,506.1v-2M258.8,375.2v2M283.3,506.1v-2M283.3,375.2v2M307.8,506.1v-2M307.8,375.2v2M332.3,506.1v-2M332.3,375.2v2M356.8,506.1v-2M356.8,375.2v2M246.55,506.1v-1.2M246.55,375.2v1.2M271.05,506.1v-1.2M271.05,375.2v1.2M295.55,506.1v-1.2M295.55,375.2v1.2M320.05,506.1v-1.2M320.05,375.2v1.2M344.55,506.1v-1.2M344.55,375.2v1.2" stroke="#5a5a5a" stroke-width="0.8" fill="none"/>
<path d="M230.2,506.1h2M360.7,506.1h-2M230.2,485.96h2M360.7,485.96h-2M230.2,465.82h2M360.7,465.82h-2M230.2,445.68h2M360.7,445.68h-2M230.2,425.55h2M360.7,425.55h-2M230.2,405.41h2M360.7,405.41h-2M230.2,385.27h2M360.7,385.27h-2M230.2,496.03h1.2M360.7,496.03h-1.2M230.2,475.89h1.2M360.7,475.89h-1.2M230.2,455.75h1.2M360.7,455.75h-1.2M230.2,435.62h1.2M360.7,435.62h-1.2M230.2,415.48h1.2M360.7,415.48h-1.2M230.2,395.34h1.2M360.7,395.34h-1.2M230.2,375.2h1.2M360.7,375.2h-1.2" stroke="#5a5a5a" stroke-width="0.8" fill="none"/>
<text x="234.3" y="515" font-size="7.7" fill="#151515" text-anchor="middle" font-family="'Liberation Sans', Arial, sans-serif">0</text>
<text x="258.8" y="515" font-size="7.7" fill="#151515" text-anchor="middle" font-family="'Liberation Sans', Arial, sans-serif">300</text>
<text x="283.3" y="515" font-size="7.7" fill="#151515" text-anchor="middle" font-family="'Liberation Sans', Arial, sans-serif">600</text>
<text x="307.8" y="515" font-size="7.7" fill="#151515" text-anchor="middle" font-family="'Liberation Sans', Arial, sans-serif">900</text>
<text x="332.3" y="515" font-size="7.7" fill="#151515" text-anchor="middle" font-family="'Liberation Sans', Arial, sans-serif">1200</text>
<text x="356.8" y="515" font-size="7.7" fill="#151515" text-anchor="middle" font-family="'Liberation Sans', Arial, sans-serif">1500</text>
<text x="234.3" y="371.9" font-size="7.7" fill="#151515" text-anchor="middle" font-family="'Liberation Sans', Arial, sans-serif">0.0</text>
<text x="258.8" y="371.9" font-size="7.7" fill="#151515" text-anchor="middle" font-family="'Liberation Sans', Arial, sans-serif">0.8</text>
<text x="283.3" y="371.9" font-size="7.7" fill="#151515" text-anchor="middle" font-family="'Liberation Sans', Arial, sans-serif">1.2</text>
<text x="307.8" y="371.9" font-size="7.7" fill="#151515" text-anchor="middle" font-family="'Liberation Sans', Arial, sans-serif">1.8</text>
<text x="332.3" y="371.9" font-size="7.7" fill="#151515" text-anchor="middle" font-family="'Liberation Sans', Arial, sans-serif">2.2</text>
<text x="356.8" y="371.9" font-size="7.7" fill="#151515" text-anchor="middle" font-family="'Liberation Sans', Arial, sans-serif">2.6</text>
<text x="296.35" y="360.6" font-size="11.1" fill="#151515" text-anchor="middle" font-family="'Liberation Sans', Arial, sans-serif">Strain (%)</text>
<text x="228" y="509.4" font-size="8.1" fill="#151515" text-anchor="end" font-family="'Liberation Sans', Arial, sans-serif">0.0</text>
<text x="228" y="489.36" font-size="8.1" fill="#151515" text-anchor="end" font-family="'Liberation Sans', Arial, sans-serif">1.0x10<tspan dy="-3.2" font-size="5.3">-4</tspan></text>
<text x="228" y="469.22" font-size="8.1" fill="#151515" text-anchor="end" font-family="'Liberation Sans', Arial, sans-serif">2.0x10<tspan dy="-3.2" font-size="5.3">-4</tspan></text>
<text x="228" y="449.08" font-size="8.1" fill="#151515" text-anchor="end" font-family="'Liberation Sans', Arial, sans-serif">3.0x10<tspan dy="-3.2" font-size="5.3">-4</tspan></text>
<text x="228" y="428.95" font-size="8.1" fill="#151515" text-anchor="end" font-family="'Liberation Sans', Arial, sans-serif">4.0x10<tspan dy="-3.2" font-size="5.3">-4</tspan></text>
<text x="228" y="408.81" font-size="8.1" fill="#151515" text-anchor="end" font-family="'Liberation Sans', Arial, sans-serif">5.0x10<tspan dy="-3.2" font-size="5.3">-4</tspan></text>
<text x="228" y="388.67" font-size="8.1" fill="#151515" text-anchor="end" font-family="'Liberation Sans', Arial, sans-serif">6.0x10<tspan dy="-3.2" font-size="5.3">-4</tspan></text>
<text x="294.65" y="528.2" font-size="11.3" fill="#151515" text-anchor="middle" font-family="'Liberation Sans', Arial, sans-serif">Stage displacement dx (μm)</text>
<text transform="translate(194.3,496.1) rotate(-90)" font-size="11.3" fill="#151515" font-family="'Liberation Sans', Arial, sans-serif">Normalized Intensity I/I<tspan font-size="7.5" dy="2.5">0</tspan></text>
<polyline points="234.3,501.47 235.12,501.47 235.93,501.47 236.75,501.47 237.57,501.47 238.38,501.47 239.2,501.47 240.02,501.47 240.83,501.47 241.65,501.47 242.47,501.47 243.28,501.43 244.1,501.34 244.92,501.19 245.73,501 246.55,500.78 247.37,500.53 248.18,500.26 249,499.99 249.82,499.72 250.63,499.45 251.45,499.19 252.27,498.9 253.08,498.59 253.9,498.25 254.72,497.91 255.53,497.55 256.35,497.18 257.17,496.8 257.98,496.42 258.8,496.03 259.62,495.64 260.43,495.23 261.25,494.82 262.07,494.39 262.88,493.95 263.7,493.5 264.52,493.04 265.33,492.57 266.15,492.09 266.97,491.6 267.78,491.1 268.6,490.59 269.42,490.06 270.23,489.52 271.05,488.97 271.87,488.4 272.68,487.81 273.5,487.21 274.32,486.6 275.13,485.96 275.95,485.29 276.77,484.58 277.58,483.83 278.4,483.05 279.22,482.27 280.03,481.48 280.85,480.7 281.67,479.93 282.48,479.2 283.3,478.5 284.12,477.82 284.93,477.16 285.75,476.51 286.57,475.86 287.38,475.21 288.2,474.56 289.02,473.88 289.83,473.19 290.65,472.49 291.47,471.79 292.28,471.08 293.1,470.36 293.92,469.63 294.73,468.9 295.55,468.17 296.37,467.43 297.18,466.69 298,465.94 298.82,465.19 299.63,464.43 300.45,463.66 301.27,462.87 302.08,462.08 302.9,461.28 303.72,460.49 304.53,459.69 305.35,458.91 306.17,458.13 306.98,457.37 307.8,456.63 308.62,455.91 309.43,455.19 310.25,454.47 311.07,453.77 311.88,453.07 312.7,452.38 313.52,451.7 314.33,451.02 315.15,450.35 315.97,449.69 316.78,449.03 317.6,448.38 318.42,447.73 319.23,447.08 320.05,446.44 320.87,445.8 321.68,445.17 322.5,444.54 323.32,443.93 324.13,443.33 324.95,442.74 325.77,442.16 326.58,441.6 327.4,441.06 328.22,440.54 329.03,440.02 329.85,439.53 330.67,439.03 331.48,438.55 332.3,438.07 333.12,437.59 333.93,437.1 334.75,436.62 335.57,436.12 336.38,435.62 337.2,435.1 338.02,434.57 338.83,434.03 339.65,433.48 340.47,432.94 341.28,432.4 342.1,431.86 342.92,431.33 343.73,430.81 344.55,430.3 345.37,429.81 346.18,429.34 347,428.89 347.82,428.45 348.63,428.02 349.45,427.6 350.27,427.18 351.08,426.77 351.9,426.36 352.72,425.95 353.53,425.54 354.35,425.14 355.17,424.74 355.98,424.34 356.8,423.94" fill="none" stroke="#555555" stroke-width="1.05"/>
<circle cx="234.3" cy="501.47" r="1.3" fill="#555555"/>
<circle cx="238.38" cy="501.47" r="1.3" fill="#555555"/>
<circle cx="242.47" cy="501.47" r="1.3" fill="#555555"/>
<circle cx="246.55" cy="500.78" r="1.3" fill="#555555"/>
<circle cx="250.63" cy="499.45" r="1.3" fill="#555555"/>
<circle cx="254.72" cy="497.91" r="1.3" fill="#555555"/>
<circle cx="258.8" cy="496.03" r="1.3" fill="#555555"/>
<circle cx="262.88" cy="493.95" r="1.3" fill="#555555"/>
<circle cx="266.97" cy="491.6" r="1.3" fill="#555555"/>
<circle cx="271.05" cy="488.97" r="1.3" fill="#555555"/>
<circle cx="275.13" cy="485.96" r="1.3" fill="#555555"/>
<circle cx="279.22" cy="482.27" r="1.3" fill="#555555"/>
<circle cx="283.3" cy="478.5" r="1.3" fill="#555555"/>
<circle cx="287.38" cy="475.21" r="1.3" fill="#555555"/>
<circle cx="291.47" cy="471.79" r="1.3" fill="#555555"/>
<circle cx="295.55" cy="468.17" r="1.3" fill="#555555"/>
<circle cx="299.63" cy="464.43" r="1.3" fill="#555555"/>
<circle cx="303.72" cy="460.49" r="1.3" fill="#555555"/>
<circle cx="307.8" cy="456.63" r="1.3" fill="#555555"/>
<circle cx="311.88" cy="453.07" r="1.3" fill="#555555"/>
<circle cx="315.97" cy="449.69" r="1.3" fill="#555555"/>
<circle cx="320.05" cy="446.44" r="1.3" fill="#555555"/>
<circle cx="324.13" cy="443.33" r="1.3" fill="#555555"/>
<circle cx="328.22" cy="440.54" r="1.3" fill="#555555"/>
<circle cx="332.3" cy="438.07" r="1.3" fill="#555555"/>
<circle cx="336.38" cy="435.62" r="1.3" fill="#555555"/>
<circle cx="340.47" cy="432.94" r="1.3" fill="#555555"/>
<circle cx="344.55" cy="430.3" r="1.3" fill="#555555"/>
<circle cx="348.63" cy="428.02" r="1.3" fill="#555555"/>
<circle cx="352.72" cy="425.95" r="1.3" fill="#555555"/>
<circle cx="356.8" cy="423.94" r="1.3" fill="#555555"/>
<polyline points="234.3,501.27 235.12,501.15 235.93,501.05 236.75,500.95 237.57,500.85 238.38,500.74 239.2,500.64 240.02,500.52 240.83,500.38 241.65,500.23 242.47,500.06 243.28,499.83 244.1,499.54 244.92,499.18 245.73,498.78 246.55,498.34 247.37,497.88 248.18,497.4 249,496.93 249.82,496.47 250.63,496.03 251.45,495.61 252.27,495.19 253.08,494.77 253.9,494.34 254.72,493.91 255.53,493.47 256.35,493.02 257.17,492.56 257.98,492.09 258.8,491.6 259.62,491.1 260.43,490.57 261.25,490.04 262.07,489.49 262.88,488.92 263.7,488.35 264.52,487.76 265.33,487.17 266.15,486.57 266.97,485.96 267.78,485.34 268.6,484.71 269.42,484.07 270.23,483.42 271.05,482.75 271.87,482.08 272.68,481.4 273.5,480.71 274.32,480.02 275.13,479.32 275.95,478.61 276.77,477.89 277.58,477.16 278.4,476.42 279.22,475.68 280.03,474.93 280.85,474.17 281.67,473.41 282.48,472.64 283.3,471.86 284.12,471.08 284.93,470.28 285.75,469.46 286.57,468.64 287.38,467.81 288.2,466.98 289.02,466.17 289.83,465.36 290.65,464.57 291.47,463.81 292.28,463.07 293.1,462.34 293.92,461.63 294.73,460.92 295.55,460.23 296.37,459.54 297.18,458.85 298,458.16 298.82,457.46 299.63,456.76 300.45,456.05 301.27,455.33 302.08,454.6 302.9,453.87 303.72,453.14 304.53,452.42 305.35,451.71 306.17,451.02 306.98,450.35 307.8,449.71 308.62,449.1 309.43,448.5 310.25,447.92 311.07,447.36 311.88,446.8 312.7,446.25 313.52,445.71 314.33,445.17 315.15,444.62 315.97,444.07 316.78,443.52 317.6,442.97 318.42,442.41 319.23,441.86 320.05,441.32 320.87,440.77 321.68,440.23 322.5,439.69 323.32,439.16 324.13,438.64 324.95,438.11 325.77,437.59 326.58,437.08 327.4,436.56 328.22,436.05 329.03,435.55 329.85,435.05 330.67,434.56 331.48,434.08 332.3,433.6 333.12,433.13 333.93,432.67 334.75,432.2 335.57,431.75 336.38,431.3 337.2,430.85 338.02,430.42 338.83,429.99 339.65,429.58 340.47,429.17 341.28,428.77 342.1,428.37 342.92,427.97 343.73,427.57 344.55,427.18 345.37,426.81 346.18,426.46 347,426.13 347.82,425.82 348.63,425.55 349.45,425.3 350.27,425.07 351.08,424.86 351.9,424.66 352.72,424.47 353.53,424.28 354.35,424.1 355.17,423.92 355.98,423.73 356.8,423.53" fill="none" stroke="#ff2a2a" stroke-width="1.05"/>
<circle cx="234.3" cy="501.27" r="1.3" fill="#ff2a2a"/>
<circle cx="238.38" cy="500.74" r="1.3" fill="#ff2a2a"/>
<circle cx="242.47" cy="500.06" r="1.3" fill="#ff2a2a"/>
<circle cx="246.55" cy="498.34" r="1.3" fill="#ff2a2a"/>
<circle cx="250.63" cy="496.03" r="1.3" fill="#ff2a2a"/>
<circle cx="254.72" cy="493.91" r="1.3" fill="#ff2a2a"/>
<circle cx="258.8" cy="491.6" r="1.3" fill="#ff2a2a"/>
<circle cx="262.88" cy="488.92" r="1.3" fill="#ff2a2a"/>
<circle cx="266.97" cy="485.96" r="1.3" fill="#ff2a2a"/>
<circle cx="271.05" cy="482.75" r="1.3" fill="#ff2a2a"/>
<circle cx="275.13" cy="479.32" r="1.3" fill="#ff2a2a"/>
<circle cx="279.22" cy="475.68" r="1.3" fill="#ff2a2a"/>
<circle cx="283.3" cy="471.86" r="1.3" fill="#ff2a2a"/>
<circle cx="287.38" cy="467.81" r="1.3" fill="#ff2a2a"/>
<circle cx="291.47" cy="463.81" r="1.3" fill="#ff2a2a"/>
<circle cx="295.55" cy="460.23" r="1.3" fill="#ff2a2a"/>
<circle cx="299.63" cy="456.76" r="1.3" fill="#ff2a2a"/>
<circle cx="303.72" cy="453.14" r="1.3" fill="#ff2a2a"/>
<circle cx="307.8" cy="449.71" r="1.3" fill="#ff2a2a"/>
<circle cx="311.88" cy="446.8" r="1.3" fill="#ff2a2a"/>
<circle cx="315.97" cy="444.07" r="1.3" fill="#ff2a2a"/>
<circle cx="320.05" cy="441.32" r="1.3" fill="#ff2a2a"/>
<circle cx="324.13" cy="438.64" r="1.3" fill="#ff2a2a"/>
<circle cx="328.22" cy="436.05" r="1.3" fill="#ff2a2a"/>
<circle cx="332.3" cy="433.6" r="1.3" fill="#ff2a2a"/>
<circle cx="336.38" cy="431.3" r="1.3" fill="#ff2a2a"/>
<circle cx="340.47" cy="429.17" r="1.3" fill="#ff2a2a"/>
<circle cx="344.55" cy="427.18" r="1.3" fill="#ff2a2a"/>
<circle cx="348.63" cy="425.55" r="1.3" fill="#ff2a2a"/>
<circle cx="352.72" cy="424.47" r="1.3" fill="#ff2a2a"/>
<circle cx="356.8" cy="423.53" r="1.3" fill="#ff2a2a"/>
<line x1="275.7" y1="391.7" x2="293.5" y2="391.7" stroke="#ff2a2a" stroke-width="1"/>
<circle cx="284.6" cy="391.7" r="1.3" fill="#ff2a2a"/>
<text x="295.8" y="394.55" font-size="7.95" fill="#151515" font-family="'Liberation Sans', Arial, sans-serif">Release TE 1st</text>
<line x1="275.7" y1="401.55" x2="293.5" y2="401.55" stroke="#555555" stroke-width="1"/>
<circle cx="284.6" cy="401.55" r="1.3" fill="#555555"/>
<text x="295.8" y="404.4" font-size="7.95" fill="#151515" font-family="'Liberation Sans', Arial, sans-serif">Banding TE 1st</text>
<text x="372" y="367.8" font-size="15.3" fill="#151515" font-family="'Liberation Sans', Arial, sans-serif">(h)</text>
<rect x="411.4" y="375.2" width="131" height="130.7" fill="none" stroke="#5a5a5a" stroke-width="1"/>
<path d="M416.3,505.9v-2M416.3,375.2v2M440.65,505.9v-2M440.65,375.2v2M465,505.9v-2M465,375.2v2M489.35,505.9v-2M489.35,375.2v2M513.7,505.9v-2M513.7,375.2v2M538.05,505.9v-2M538.05,375.2v2M428.48,505.9v-1.2M428.48,375.2v1.2M452.82,505.9v-1.2M452.82,375.2v1.2M477.18,505.9v-1.2M477.18,375.2v1.2M501.52,505.9v-1.2M501.52,375.2v1.2M525.88,505.9v-1.2M525.88,375.2v1.2" stroke="#5a5a5a" stroke-width="0.8" fill="none"/>
<path d="M411.4,505.9h2M542.4,505.9h-2M411.4,485.79h2M542.4,485.79h-2M411.4,465.68h2M542.4,465.68h-2M411.4,445.58h2M542.4,445.58h-2M411.4,425.47h2M542.4,425.47h-2M411.4,405.36h2M542.4,405.36h-2M411.4,385.25h2M542.4,385.25h-2M411.4,495.85h1.2M542.4,495.85h-1.2M411.4,475.74h1.2M542.4,475.74h-1.2M411.4,455.63h1.2M542.4,455.63h-1.2M411.4,435.52h1.2M542.4,435.52h-1.2M411.4,415.42h1.2M542.4,415.42h-1.2M411.4,395.31h1.2M542.4,395.31h-1.2M411.4,375.2h1.2M542.4,375.2h-1.2" stroke="#5a5a5a" stroke-width="0.8" fill="none"/>
<text x="416.3" y="514.8" font-size="7.7" fill="#151515" text-anchor="middle" font-family="'Liberation Sans', Arial, sans-serif">0</text>
<text x="440.65" y="514.8" font-size="7.7" fill="#151515" text-anchor="middle" font-family="'Liberation Sans', Arial, sans-serif">300</text>
<text x="465" y="514.8" font-size="7.7" fill="#151515" text-anchor="middle" font-family="'Liberation Sans', Arial, sans-serif">600</text>
<text x="489.35" y="514.8" font-size="7.7" fill="#151515" text-anchor="middle" font-family="'Liberation Sans', Arial, sans-serif">900</text>
<text x="513.7" y="514.8" font-size="7.7" fill="#151515" text-anchor="middle" font-family="'Liberation Sans', Arial, sans-serif">1200</text>
<text x="538.05" y="514.8" font-size="7.7" fill="#151515" text-anchor="middle" font-family="'Liberation Sans', Arial, sans-serif">1500</text>
<text x="416.3" y="371.9" font-size="7.7" fill="#151515" text-anchor="middle" font-family="'Liberation Sans', Arial, sans-serif">0.0</text>
<text x="440.65" y="371.9" font-size="7.7" fill="#151515" text-anchor="middle" font-family="'Liberation Sans', Arial, sans-serif">0.8</text>
<text x="465" y="371.9" font-size="7.7" fill="#151515" text-anchor="middle" font-family="'Liberation Sans', Arial, sans-serif">1.2</text>
<text x="489.35" y="371.9" font-size="7.7" fill="#151515" text-anchor="middle" font-family="'Liberation Sans', Arial, sans-serif">1.8</text>
<text x="513.7" y="371.9" font-size="7.7" fill="#151515" text-anchor="middle" font-family="'Liberation Sans', Arial, sans-serif">2.2</text>
<text x="538.05" y="371.9" font-size="7.7" fill="#151515" text-anchor="middle" font-family="'Liberation Sans', Arial, sans-serif">2.6</text>
<text x="477.8" y="360.6" font-size="11.1" fill="#151515" text-anchor="middle" font-family="'Liberation Sans', Arial, sans-serif">Strain (%)</text>
<text x="409.2" y="509.2" font-size="8.1" fill="#151515" text-anchor="end" font-family="'Liberation Sans', Arial, sans-serif">0.0</text>
<text x="409.2" y="489.19" font-size="8.1" fill="#151515" text-anchor="end" font-family="'Liberation Sans', Arial, sans-serif">1.0x10<tspan dy="-3.2" font-size="5.3">-4</tspan></text>
<text x="409.2" y="469.08" font-size="8.1" fill="#151515" text-anchor="end" font-family="'Liberation Sans', Arial, sans-serif">2.0x10<tspan dy="-3.2" font-size="5.3">-4</tspan></text>
<text x="409.2" y="448.98" font-size="8.1" fill="#151515" text-anchor="end" font-family="'Liberation Sans', Arial, sans-serif">3.0x10<tspan dy="-3.2" font-size="5.3">-4</tspan></text>
<text x="409.2" y="428.87" font-size="8.1" fill="#151515" text-anchor="end" font-family="'Liberation Sans', Arial, sans-serif">4.0x10<tspan dy="-3.2" font-size="5.3">-4</tspan></text>
<text x="409.2" y="408.76" font-size="8.1" fill="#151515" text-anchor="end" font-family="'Liberation Sans', Arial, sans-serif">5.0x10<tspan dy="-3.2" font-size="5.3">-4</tspan></text>
<text x="409.2" y="388.65" font-size="8.1" fill="#151515" text-anchor="end" font-family="'Liberation Sans', Arial, sans-serif">6.0x10<tspan dy="-3.2" font-size="5.3">-4</tspan></text>
<text x="476.1" y="530.6" font-size="11.3" fill="#151515" text-anchor="middle" font-family="'Liberation Sans', Arial, sans-serif">Stage displacement dx (μm)</text>
<text transform="translate(376.4,496.6) rotate(-90)" font-size="11.3" fill="#151515" font-family="'Liberation Sans', Arial, sans-serif">Normalized Intensity I/I<tspan font-size="7.5" dy="2.5">0</tspan></text>
<polyline points="416.3,503.89 417.11,503.73 417.92,503.59 418.74,503.45 419.55,503.31 420.36,503.17 421.17,503.02 421.98,502.86 422.79,502.69 423.61,502.49 424.42,502.28 425.23,502.03 426.04,501.73 426.85,501.39 427.66,501.01 428.48,500.61 429.29,500.19 430.1,499.76 430.91,499.32 431.72,498.89 432.53,498.46 433.35,498.04 434.16,497.61 434.97,497.18 435.78,496.73 436.59,496.28 437.4,495.82 438.22,495.34 439.03,494.85 439.84,494.35 440.65,493.84 441.46,493.3 442.27,492.75 443.09,492.19 443.9,491.61 444.71,491.01 445.52,490.39 446.33,489.77 447.14,489.13 447.95,488.47 448.77,487.8 449.58,487.12 450.39,486.42 451.2,485.71 452.01,484.97 452.82,484.22 453.64,483.45 454.45,482.66 455.26,481.85 456.07,481.02 456.88,480.16 457.69,479.27 458.51,478.32 459.32,477.34 460.13,476.34 460.94,475.34 461.75,474.33 462.56,473.31 463.38,472.27 464.19,471.22 465,470.17 465.81,469.12 466.62,468.07 467.44,467.03 468.25,466 469.06,464.98 469.87,463.98 470.68,463 471.49,462.03 472.31,461.06 473.12,460.1 473.93,459.13 474.74,458.15 475.55,457.16 476.36,456.16 477.18,455.12 477.99,454.07 478.8,452.98 479.61,451.87 480.42,450.75 481.23,449.63 482.05,448.5 482.86,447.37 483.67,446.25 484.48,445.15 485.29,444.07 486.1,443.02 486.92,441.97 487.73,440.93 488.54,439.9 489.35,438.88 490.16,437.87 490.97,436.85 491.79,435.84 492.6,434.83 493.41,433.82 494.22,432.8 495.03,431.79 495.84,430.79 496.66,429.79 497.47,428.78 498.28,427.78 499.09,426.78 499.9,425.78 500.71,424.77 501.52,423.77 502.34,422.75 503.15,421.73 503.96,420.7 504.77,419.66 505.58,418.62 506.39,417.59 507.21,416.55 508.02,415.52 508.83,414.5 509.64,413.5 510.45,412.5 511.26,411.52 512.08,410.54 512.89,409.57 513.7,408.61 514.51,407.65 515.32,406.7 516.13,405.77 516.95,404.84 517.76,403.92 518.57,403.01 519.38,402.09 520.19,401.18 521,400.28 521.82,399.38 522.63,398.49 523.44,397.62 524.25,396.77 525.06,395.94 525.88,395.13 526.69,394.35 527.5,393.59 528.31,392.85 529.12,392.12 529.93,391.4 530.75,390.7 531.56,390.02 532.37,389.36 533.18,388.71 533.99,388.08 534.8,387.47 535.62,386.88 536.43,386.33 537.24,385.8 538.05,385.25" fill="none" stroke="#111" stroke-width="1.05"/>
<circle cx="416.3" cy="503.89" r="1.7" fill="#111"/>
<circle cx="420.36" cy="503.17" r="1.7" fill="#111"/>
<circle cx="424.42" cy="502.28" r="1.7" fill="#111"/>
<circle cx="428.48" cy="500.61" r="1.7" fill="#111"/>
<circle cx="432.53" cy="498.46" r="1.7" fill="#111"/>
<circle cx="436.59" cy="496.28" r="1.7" fill="#111"/>
<circle cx="440.65" cy="493.84" r="1.7" fill="#111"/>
<circle cx="444.71" cy="491.01" r="1.7" fill="#111"/>
<circle cx="448.77" cy="487.8" r="1.7" fill="#111"/>
<circle cx="452.82" cy="484.22" r="1.7" fill="#111"/>
<circle cx="456.88" cy="480.16" r="1.7" fill="#111"/>
<circle cx="460.94" cy="475.34" r="1.7" fill="#111"/>
<circle cx="465" cy="470.17" r="1.7" fill="#111"/>
<circle cx="469.06" cy="464.98" r="1.7" fill="#111"/>
<circle cx="473.12" cy="460.1" r="1.7" fill="#111"/>
<circle cx="477.18" cy="455.12" r="1.7" fill="#111"/>
<circle cx="481.23" cy="449.63" r="1.7" fill="#111"/>
<circle cx="485.29" cy="444.07" r="1.7" fill="#111"/>
<circle cx="489.35" cy="438.88" r="1.7" fill="#111"/>
<circle cx="493.41" cy="433.82" r="1.7" fill="#111"/>
<circle cx="497.47" cy="428.78" r="1.7" fill="#111"/>
<circle cx="501.52" cy="423.77" r="1.7" fill="#111"/>
<circle cx="505.58" cy="418.62" r="1.7" fill="#111"/>
<circle cx="509.64" cy="413.5" r="1.7" fill="#111"/>
<circle cx="513.7" cy="408.61" r="1.7" fill="#111"/>
<circle cx="517.76" cy="403.92" r="1.7" fill="#111"/>
<circle cx="521.82" cy="399.38" r="1.7" fill="#111"/>
<circle cx="525.88" cy="395.13" r="1.7" fill="#111"/>
<circle cx="529.93" cy="391.4" r="1.7" fill="#111"/>
<circle cx="533.99" cy="388.08" r="1.7" fill="#111"/>
<circle cx="538.05" cy="385.25" r="1.7" fill="#111"/>
<polyline points="416.3,503.49 417.11,503.13 417.92,502.79 418.74,502.46 419.55,502.13 420.36,501.79 421.17,501.45 421.98,501.09 422.79,500.71 423.61,500.3 424.42,499.87 425.23,499.39 426.04,498.87 426.85,498.32 427.66,497.73 428.48,497.12 429.29,496.48 430.1,495.83 430.91,495.17 431.72,494.5 432.53,493.84 433.35,493.16 434.16,492.46 434.97,491.75 435.78,491.02 436.59,490.28 437.4,489.53 438.22,488.76 439.03,487.98 439.84,487.19 440.65,486.4 441.46,485.59 442.27,484.76 443.09,483.92 443.9,483.06 444.71,482.19 445.52,481.31 446.33,480.43 447.14,479.54 447.95,478.64 448.77,477.75 449.58,476.85 450.39,475.96 451.2,475.06 452.01,474.15 452.82,473.23 453.64,472.31 454.45,471.38 455.26,470.43 456.07,469.47 456.88,468.5 457.69,467.51 458.51,466.49 459.32,465.46 460.13,464.41 460.94,463.35 461.75,462.29 462.56,461.22 463.38,460.16 464.19,459.1 465,458.04 465.81,457 466.62,455.96 467.44,454.93 468.25,453.89 469.06,452.85 469.87,451.81 470.68,450.77 471.49,449.72 472.31,448.66 473.12,447.59 473.93,446.5 474.74,445.39 475.55,444.27 476.36,443.14 477.18,442 477.99,440.87 478.8,439.76 479.61,438.65 480.42,437.58 481.23,436.53 482.05,435.51 482.86,434.52 483.67,433.54 484.48,432.58 485.29,431.63 486.1,430.69 486.92,429.75 487.73,428.8 488.54,427.84 489.35,426.88 490.16,425.89 490.97,424.9 491.79,423.9 492.6,422.89 493.41,421.88 494.22,420.88 495.03,419.89 495.84,418.92 496.66,417.96 497.47,417.02 498.28,416.12 499.09,415.23 499.9,414.36 500.71,413.5 501.52,412.65 502.34,411.81 503.15,410.96 503.96,410.11 504.77,409.25 505.58,408.38 506.39,407.48 507.21,406.56 508.02,405.62 508.83,404.68 509.64,403.74 510.45,402.81 511.26,401.89 512.08,401 512.89,400.14 513.7,399.33 514.51,398.55 515.32,397.78 516.13,397.03 516.95,396.3 517.76,395.59 518.57,394.89 519.38,394.21 520.19,393.55 521,392.91 521.82,392.29 522.63,391.67 523.44,391.06 524.25,390.44 525.06,389.84 525.88,389.25 526.69,388.69 527.5,388.17 528.31,387.68 529.12,387.25 529.93,386.86 530.75,386.53 531.56,386.22 532.37,385.94 533.18,385.69 533.99,385.44 534.8,385.21 535.62,384.98 536.43,384.74 537.24,384.5 538.05,384.25" fill="none" stroke="#ff2a2a" stroke-width="1.05"/>
<circle cx="416.3" cy="503.49" r="1.7" fill="#ff2a2a"/>
<circle cx="420.36" cy="501.79" r="1.7" fill="#ff2a2a"/>
<circle cx="424.42" cy="499.87" r="1.7" fill="#ff2a2a"/>
<circle cx="428.48" cy="497.12" r="1.7" fill="#ff2a2a"/>
<circle cx="432.53" cy="493.84" r="1.7" fill="#ff2a2a"/>
<circle cx="436.59" cy="490.28" r="1.7" fill="#ff2a2a"/>
<circle cx="440.65" cy="486.4" r="1.7" fill="#ff2a2a"/>
<circle cx="444.71" cy="482.19" r="1.7" fill="#ff2a2a"/>
<circle cx="448.77" cy="477.75" r="1.7" fill="#ff2a2a"/>
<circle cx="452.82" cy="473.23" r="1.7" fill="#ff2a2a"/>
<circle cx="456.88" cy="468.5" r="1.7" fill="#ff2a2a"/>
<circle cx="460.94" cy="463.35" r="1.7" fill="#ff2a2a"/>
<circle cx="465" cy="458.04" r="1.7" fill="#ff2a2a"/>
<circle cx="469.06" cy="452.85" r="1.7" fill="#ff2a2a"/>
<circle cx="473.12" cy="447.59" r="1.7" fill="#ff2a2a"/>
<circle cx="477.18" cy="442" r="1.7" fill="#ff2a2a"/>
<circle cx="481.23" cy="436.53" r="1.7" fill="#ff2a2a"/>
<circle cx="485.29" cy="431.63" r="1.7" fill="#ff2a2a"/>
<circle cx="489.35" cy="426.88" r="1.7" fill="#ff2a2a"/>
<circle cx="493.41" cy="421.88" r="1.7" fill="#ff2a2a"/>
<circle cx="497.47" cy="417.02" r="1.7" fill="#ff2a2a"/>
<circle cx="501.52" cy="412.65" r="1.7" fill="#ff2a2a"/>
<circle cx="505.58" cy="408.38" r="1.7" fill="#ff2a2a"/>
<circle cx="509.64" cy="403.74" r="1.7" fill="#ff2a2a"/>
<circle cx="513.7" cy="399.33" r="1.7" fill="#ff2a2a"/>
<circle cx="517.76" cy="395.59" r="1.7" fill="#ff2a2a"/>
<circle cx="521.82" cy="392.29" r="1.7" fill="#ff2a2a"/>
<circle cx="525.88" cy="389.25" r="1.7" fill="#ff2a2a"/>
<circle cx="529.93" cy="386.86" r="1.7" fill="#ff2a2a"/>
<circle cx="533.99" cy="385.44" r="1.7" fill="#ff2a2a"/>
<circle cx="538.05" cy="384.25" r="1.7" fill="#ff2a2a"/>
<line x1="460" y1="487.5" x2="477.6" y2="487.5" stroke="#ff2a2a" stroke-width="1"/>
<circle cx="468.8" cy="487.5" r="1.7" fill="#ff2a2a"/>
<text x="480.1" y="490.35" font-size="7.95" fill="#151515" font-family="'Liberation Sans', Arial, sans-serif">Release TE 2nd</text>
<line x1="460" y1="497.3" x2="477.6" y2="497.3" stroke="#111" stroke-width="1"/>
<circle cx="468.8" cy="497.3" r="1.7" fill="#111"/>
<text x="480.1" y="500.15" font-size="7.95" fill="#151515" font-family="'Liberation Sans', Arial, sans-serif">Banding TE 2nd</text>
</svg></body></html>
